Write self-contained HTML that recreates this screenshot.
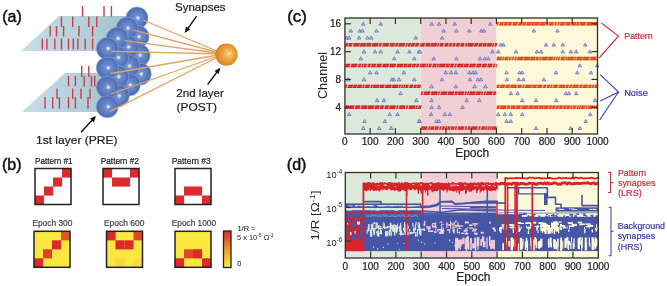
<!DOCTYPE html>
<html><head><meta charset="utf-8"><style>html,body{margin:0;padding:0;background:#fff;width:667px;height:286px;overflow:hidden}svg{display:block;will-change:transform;filter:blur(0.35px)}</style></head>
<body><svg width="667" height="286" viewBox="0 0 667 286">
<rect width="667" height="286" fill="#fff"/>
<text x="2.2" y="21.6" font-size="17" fill="#111" stroke="#111" stroke-width="0.5" textLength="19.6" lengthAdjust="spacingAndGlyphs" font-family="Liberation Sans, sans-serif">(a)</text>
<text x="2.0" y="170.3" font-size="17" fill="#111" stroke="#111" stroke-width="0.5" textLength="19.6" lengthAdjust="spacingAndGlyphs" font-family="Liberation Sans, sans-serif">(b)</text>
<text x="287.2" y="21.6" font-size="17" fill="#111" stroke="#111" stroke-width="0.5" textLength="19.6" lengthAdjust="spacingAndGlyphs" font-family="Liberation Sans, sans-serif">(c)</text>
<text x="286.8" y="170.3" font-size="17" fill="#111" stroke="#111" stroke-width="0.5" textLength="19.6" lengthAdjust="spacingAndGlyphs" font-family="Liberation Sans, sans-serif">(d)</text>
<defs>
<linearGradient id="plane" x1="0" y1="0" x2="1" y2="0">
<stop offset="0" stop-color="#c4deea"/><stop offset="0.55" stop-color="#b2d0dc"/><stop offset="1" stop-color="#9cbac4"/></linearGradient>
<radialGradient id="sph" cx="0.5" cy="0.5" r="0.5" fx="0.55" fy="0.5">
<stop offset="0" stop-color="#f4f8ff"/><stop offset="0.1" stop-color="#c4d4f2"/><stop offset="0.22" stop-color="#7090d0"/><stop offset="0.7" stop-color="#5878c0"/><stop offset="0.9" stop-color="#4d6cb4"/><stop offset="1" stop-color="#7088c4"/></radialGradient>
<radialGradient id="orb" cx="0.55" cy="0.5" r="0.6" fx="0.62" fy="0.45">
<stop offset="0" stop-color="#fff3c0"/><stop offset="0.15" stop-color="#f6c064"/><stop offset="0.6" stop-color="#e39a36"/><stop offset="1" stop-color="#c97a22"/></radialGradient>
<linearGradient id="cbar" x1="0" y1="1" x2="0" y2="0">
<stop offset="0" stop-color="#fff23a"/><stop offset="0.5" stop-color="#ef9a2e"/><stop offset="1" stop-color="#d42a2a"/></linearGradient>
</defs>
<polygon points="21,51 59,16 140,16 140,51" fill="url(#plane)"/>
<polygon points="22,112 65,73 125,73 110,112" fill="url(#plane)"/>
<line x1="82.5" y1="6" x2="82.5" y2="16.5" stroke="#d23b42" stroke-width="1.4"/>
<line x1="104" y1="6" x2="104" y2="16.5" stroke="#d23b42" stroke-width="1.4"/>
<line x1="111.4" y1="6" x2="111.4" y2="16.5" stroke="#d23b42" stroke-width="1.4"/>
<line x1="61.5" y1="16.5" x2="61.5" y2="27" stroke="#d23b42" stroke-width="1.4"/>
<line x1="72.7" y1="16.5" x2="72.7" y2="27" stroke="#d23b42" stroke-width="1.4"/>
<line x1="88.8" y1="16.5" x2="88.8" y2="27" stroke="#d23b42" stroke-width="1.4"/>
<line x1="96.8" y1="16.5" x2="96.8" y2="27" stroke="#d23b42" stroke-width="1.4"/>
<line x1="50.2" y1="26" x2="50.2" y2="36.4" stroke="#d23b42" stroke-width="1.4"/>
<line x1="56.5" y1="26" x2="56.5" y2="36.4" stroke="#d23b42" stroke-width="1.4"/>
<line x1="63.6" y1="26" x2="63.6" y2="36.4" stroke="#d23b42" stroke-width="1.4"/>
<line x1="79" y1="26" x2="79" y2="36.4" stroke="#d23b42" stroke-width="1.4"/>
<line x1="92.6" y1="26" x2="92.6" y2="36.4" stroke="#d23b42" stroke-width="1.4"/>
<line x1="42.3" y1="38.5" x2="42.3" y2="49.4" stroke="#d23b42" stroke-width="1.4"/>
<line x1="46.9" y1="38.5" x2="46.9" y2="49.4" stroke="#d23b42" stroke-width="1.4"/>
<line x1="54.8" y1="38.5" x2="54.8" y2="49.4" stroke="#d23b42" stroke-width="1.4"/>
<line x1="61.5" y1="38.5" x2="61.5" y2="49.4" stroke="#d23b42" stroke-width="1.4"/>
<line x1="68.5" y1="38.5" x2="68.5" y2="49.4" stroke="#d23b42" stroke-width="1.4"/>
<line x1="73.3" y1="38.5" x2="73.3" y2="49.4" stroke="#d23b42" stroke-width="1.4"/>
<line x1="77.9" y1="38.5" x2="77.9" y2="49.4" stroke="#d23b42" stroke-width="1.4"/>
<line x1="85.2" y1="38.5" x2="85.2" y2="49.4" stroke="#d23b42" stroke-width="1.4"/>
<line x1="92.6" y1="38.5" x2="92.6" y2="49.4" stroke="#d23b42" stroke-width="1.4"/>
<line x1="81.7" y1="66" x2="81.7" y2="77" stroke="#d23b42" stroke-width="1.4"/>
<line x1="88.8" y1="66" x2="88.8" y2="77" stroke="#d23b42" stroke-width="1.4"/>
<line x1="68.5" y1="76" x2="68.5" y2="86.4" stroke="#d23b42" stroke-width="1.4"/>
<line x1="75.4" y1="76" x2="75.4" y2="86.4" stroke="#d23b42" stroke-width="1.4"/>
<line x1="84.2" y1="76" x2="84.2" y2="86.4" stroke="#d23b42" stroke-width="1.4"/>
<line x1="91.5" y1="76" x2="91.5" y2="86.4" stroke="#d23b42" stroke-width="1.4"/>
<line x1="94.7" y1="76" x2="94.7" y2="86.4" stroke="#d23b42" stroke-width="1.4"/>
<line x1="57" y1="88.5" x2="57" y2="99" stroke="#d23b42" stroke-width="1.4"/>
<line x1="72.7" y1="88.5" x2="72.7" y2="99" stroke="#d23b42" stroke-width="1.4"/>
<line x1="81" y1="88.5" x2="81" y2="99" stroke="#d23b42" stroke-width="1.4"/>
<line x1="90" y1="88.5" x2="90" y2="99" stroke="#d23b42" stroke-width="1.4"/>
<line x1="45" y1="97" x2="45" y2="108.5" stroke="#d23b42" stroke-width="1.4"/>
<line x1="52.7" y1="97" x2="52.7" y2="108.5" stroke="#d23b42" stroke-width="1.4"/>
<line x1="59.4" y1="97" x2="59.4" y2="108.5" stroke="#d23b42" stroke-width="1.4"/>
<line x1="68.5" y1="97" x2="68.5" y2="108.5" stroke="#d23b42" stroke-width="1.4"/>
<line x1="75.4" y1="97" x2="75.4" y2="108.5" stroke="#d23b42" stroke-width="1.4"/>
<line x1="88" y1="97" x2="88" y2="108.5" stroke="#d23b42" stroke-width="1.4"/>
<circle cx="137.0" cy="17.9" r="11" fill="url(#sph)" stroke="#8098cc" stroke-width="0.5"/>
<circle cx="138.1" cy="36.6" r="11" fill="url(#sph)" stroke="#8098cc" stroke-width="0.5"/>
<circle cx="139.2" cy="55.3" r="11" fill="url(#sph)" stroke="#8098cc" stroke-width="0.5"/>
<circle cx="140.3" cy="74.0" r="11" fill="url(#sph)" stroke="#8098cc" stroke-width="0.5"/>
<circle cx="127.1" cy="28.1" r="11" fill="url(#sph)" stroke="#8098cc" stroke-width="0.5"/>
<circle cx="127.8" cy="47.0" r="11" fill="url(#sph)" stroke="#8098cc" stroke-width="0.5"/>
<circle cx="128.6" cy="66.0" r="11" fill="url(#sph)" stroke="#8098cc" stroke-width="0.5"/>
<circle cx="129.3" cy="84.9" r="11" fill="url(#sph)" stroke="#8098cc" stroke-width="0.5"/>
<circle cx="117.2" cy="38.3" r="11" fill="url(#sph)" stroke="#8098cc" stroke-width="0.5"/>
<circle cx="117.6" cy="57.5" r="11" fill="url(#sph)" stroke="#8098cc" stroke-width="0.5"/>
<circle cx="117.9" cy="76.6" r="11" fill="url(#sph)" stroke="#8098cc" stroke-width="0.5"/>
<circle cx="118.3" cy="95.8" r="11" fill="url(#sph)" stroke="#8098cc" stroke-width="0.5"/>
<circle cx="107.3" cy="48.5" r="11" fill="url(#sph)" stroke="#8098cc" stroke-width="0.5"/>
<circle cx="107.3" cy="67.9" r="11" fill="url(#sph)" stroke="#8098cc" stroke-width="0.5"/>
<circle cx="107.3" cy="87.3" r="11" fill="url(#sph)" stroke="#8098cc" stroke-width="0.5"/>
<circle cx="107.3" cy="106.7" r="11" fill="url(#sph)" stroke="#8098cc" stroke-width="0.5"/>
<line x1="143" y1="20" x2="224" y2="54" stroke="#e0a460" stroke-width="1.3"/>
<line x1="133.4" y1="30.2" x2="224" y2="54" stroke="#e0a460" stroke-width="1.3"/>
<line x1="125" y1="40.6" x2="224" y2="54" stroke="#e0a460" stroke-width="1.3"/>
<line x1="111.8" y1="51.4" x2="224" y2="54" stroke="#e0a460" stroke-width="1.3"/>
<line x1="110.7" y1="73.5" x2="224" y2="54" stroke="#e0a460" stroke-width="1.3"/>
<line x1="110.7" y1="94" x2="224" y2="54" stroke="#e0a460" stroke-width="1.3"/>
<line x1="110.2" y1="111.3" x2="224" y2="54" stroke="#e0a460" stroke-width="1.3"/>
<circle cx="226.5" cy="54.6" r="11.2" fill="url(#orb)"/>
<line x1="196.6" y1="16.1" x2="185.9" y2="31.3" stroke="#111" stroke-width="1.4"/>
<polygon points="184.7,32.9 186.0,26.5 190.3,29.6" fill="#111"/>
<line x1="207.6" y1="84.5" x2="219.0" y2="69.4" stroke="#111" stroke-width="1.4"/>
<polygon points="220.2,67.8 218.7,74.1 214.5,70.9" fill="#111"/>
<line x1="81" y1="132.3" x2="94.6" y2="117.5" stroke="#111" stroke-width="1.4"/>
<polygon points="96,116 93.9,122.2 90.0,118.6" fill="#111"/>
<text x="175.0" y="11.2" font-size="11.5" fill="#222" stroke="#222" stroke-width="0.22" text-anchor="start" font-family="Liberation Sans, sans-serif" textLength="50.6" lengthAdjust="spacingAndGlyphs" >Synapses</text>
<text x="176.3" y="96.8" font-size="11.5" fill="#222" stroke="#222" stroke-width="0.22" text-anchor="start" font-family="Liberation Sans, sans-serif" textLength="47.6" lengthAdjust="spacingAndGlyphs" >2nd layer</text>
<text x="176.6" y="111.1" font-size="11.5" fill="#222" stroke="#222" stroke-width="0.22" text-anchor="start" font-family="Liberation Sans, sans-serif" textLength="40.4" lengthAdjust="spacingAndGlyphs" >(POST)</text>
<text x="36.0" y="144.2" font-size="11.5" fill="#222" stroke="#222" stroke-width="0.22" text-anchor="start" font-family="Liberation Sans, sans-serif" textLength="81.4" lengthAdjust="spacingAndGlyphs" >1st layer  (PRE)</text>
<rect x="35" y="168.5" width="36" height="36" fill="#fff"/>
<rect x="35.00" y="195.50" width="9.10" height="9.10" fill="#dc2a2e"/>
<rect x="44.00" y="186.50" width="9.10" height="9.10" fill="#dc2a2e"/>
<rect x="53.00" y="177.50" width="9.10" height="9.10" fill="#dc2a2e"/>
<rect x="62.00" y="168.50" width="9.10" height="9.10" fill="#dc2a2e"/>
<rect x="35" y="168.5" width="36" height="36" fill="none" stroke="#222" stroke-width="1.5"/>
<rect x="103" y="168.5" width="36" height="36" fill="#fff"/>
<rect x="103.00" y="168.50" width="9.10" height="9.10" fill="#dc2a2e"/>
<rect x="130.00" y="168.50" width="9.10" height="9.10" fill="#dc2a2e"/>
<rect x="112.00" y="177.50" width="9.10" height="9.10" fill="#dc2a2e"/>
<rect x="121.00" y="177.50" width="9.10" height="9.10" fill="#dc2a2e"/>
<rect x="103" y="168.5" width="36" height="36" fill="none" stroke="#222" stroke-width="1.5"/>
<rect x="175" y="168.5" width="36" height="36" fill="#fff"/>
<rect x="175.00" y="195.50" width="9.10" height="9.10" fill="#dc2a2e"/>
<rect x="202.00" y="195.50" width="9.10" height="9.10" fill="#dc2a2e"/>
<rect x="184.00" y="186.50" width="9.10" height="9.10" fill="#dc2a2e"/>
<rect x="193.00" y="186.50" width="9.10" height="9.10" fill="#dc2a2e"/>
<rect x="175" y="168.5" width="36" height="36" fill="none" stroke="#222" stroke-width="1.5"/>
<text x="35.0" y="163.9" font-size="8.8" fill="#222" stroke="#222" stroke-width="0.22" text-anchor="start" font-family="Liberation Sans, sans-serif" textLength="37.5" lengthAdjust="spacingAndGlyphs" >Pattern #1</text>
<text x="100.7" y="163.9" font-size="8.8" fill="#222" stroke="#222" stroke-width="0.22" text-anchor="start" font-family="Liberation Sans, sans-serif" textLength="38.3" lengthAdjust="spacingAndGlyphs" >Pattern #2</text>
<text x="171.7" y="163.9" font-size="8.8" fill="#222" stroke="#222" stroke-width="0.22" text-anchor="start" font-family="Liberation Sans, sans-serif" textLength="39.0" lengthAdjust="spacingAndGlyphs" >Pattern #3</text>
<rect x="34" y="231.3" width="36" height="36" fill="#f8e840"/>
<rect x="34.00" y="258.30" width="9.10" height="9.10" fill="#dc2a2a"/>
<rect x="43.00" y="249.30" width="9.10" height="9.10" fill="#dd4228"/>
<rect x="52.00" y="240.30" width="9.10" height="9.10" fill="#dc2a2a"/>
<rect x="61.00" y="231.30" width="9.10" height="9.10" fill="#dd5a28"/>
<rect x="34" y="231.3" width="36" height="36" fill="none" stroke="#222" stroke-width="1.5"/>
<rect x="106.5" y="231.3" width="36" height="36" fill="#f8e840"/>
<rect x="106.50" y="231.30" width="9.10" height="9.10" fill="#dc2a2a"/>
<rect x="133.50" y="231.30" width="9.10" height="9.10" fill="#de4a28"/>
<rect x="115.50" y="240.30" width="9.10" height="9.10" fill="#dc2a2a"/>
<rect x="124.50" y="240.30" width="9.10" height="9.10" fill="#dc2a2a"/>
<rect x="115.50" y="258.30" width="9.10" height="9.10" fill="#f6d848"/>
<rect x="133.50" y="258.30" width="9.10" height="9.10" fill="#f6d848"/>
<rect x="106.5" y="231.3" width="36" height="36" fill="none" stroke="#222" stroke-width="1.5"/>
<rect x="175" y="231.3" width="36" height="36" fill="#f8e840"/>
<rect x="175.00" y="258.30" width="9.10" height="9.10" fill="#dc2a2a"/>
<rect x="202.00" y="258.30" width="9.10" height="9.10" fill="#dc2a2a"/>
<rect x="184.00" y="249.30" width="9.10" height="9.10" fill="#de4a28"/>
<rect x="193.00" y="249.30" width="9.10" height="9.10" fill="#dc2a2a"/>
<rect x="175" y="231.3" width="36" height="36" fill="none" stroke="#222" stroke-width="1.5"/>
<text x="32.4" y="226.4" font-size="8.8" fill="#444" stroke="#444" stroke-width="0.22" text-anchor="start" font-family="Liberation Sans, sans-serif" textLength="40.0" lengthAdjust="spacingAndGlyphs" >Epoch 300</text>
<text x="103.9" y="226.4" font-size="8.8" fill="#444" stroke="#444" stroke-width="0.22" text-anchor="start" font-family="Liberation Sans, sans-serif" textLength="40.6" lengthAdjust="spacingAndGlyphs" >Epoch 600</text>
<text x="171.8" y="226.4" font-size="8.8" fill="#444" stroke="#444" stroke-width="0.22" text-anchor="start" font-family="Liberation Sans, sans-serif" textLength="44.2" lengthAdjust="spacingAndGlyphs" >Epoch 1000</text>
<rect x="223.5" y="231" width="7.5" height="36.5" fill="url(#cbar)" stroke="#222" stroke-width="1.3"/>
<text x="237.4" y="230.9" font-size="7.4" fill="#222" stroke="#222" stroke-width="0.06" text-anchor="start" font-family="Liberation Sans, sans-serif" textLength="18.3" lengthAdjust="spacingAndGlyphs" >1/R =</text>
<text x="237.0" y="240.1" font-size="7.4" fill="#222" font-family="Liberation Sans, sans-serif">5 x 10<tspan font-size="5" dy="-3">-5</tspan><tspan dy="3"> Ω</tspan><tspan font-size="5" dy="-3">-1</tspan></text>
<text x="237.2" y="266.2" font-size="7.2" fill="#222" stroke="#222" stroke-width="0.06" text-anchor="start" font-family="Liberation Sans, sans-serif" >0</text>

<rect x="344.9" y="18" width="75.78" height="116" fill="#dce9da"/>
<rect x="420.68" y="18" width="75.78" height="116" fill="#f1d0d5"/>
<rect x="496.46" y="18" width="101.04" height="116" fill="#fcf8d8"/>
<rect x="344.90" y="42.95" width="75.78" height="3.4" fill="#e6a49c"/>
<polygon points="344.9,46.4 347.4,46.4 348.3,43.0 345.8,43.0" fill="#d02024"/>
<polygon points="348.2,46.4 351.7,46.4 352.6,43.0 349.1,43.0" fill="#d02024"/>
<polygon points="353.0,46.4 359.0,46.4 359.9,43.0 353.9,43.0" fill="#d02024"/>
<polygon points="359.6,46.4 365.6,46.4 366.5,43.0 360.5,43.0" fill="#d02024"/>
<polygon points="366.2,46.4 370.7,46.4 371.6,43.0 367.1,43.0" fill="#d02024"/>
<polygon points="371.7,46.4 377.7,46.4 378.6,43.0 372.6,43.0" fill="#d02024"/>
<polygon points="378.5,46.4 381.0,46.4 381.9,43.0 379.4,43.0" fill="#d02024"/>
<polygon points="382.3,46.4 388.3,46.4 389.2,43.0 383.2,43.0" fill="#d02024"/>
<polygon points="389.6,46.4 394.1,46.4 395.0,43.0 390.5,43.0" fill="#d02024"/>
<polygon points="394.9,46.4 397.4,46.4 398.3,43.0 395.8,43.0" fill="#d02024"/>
<polygon points="398.2,46.4 404.2,46.4 405.1,43.0 399.1,43.0" fill="#d02024"/>
<polygon points="405.5,46.4 407.0,46.4 407.9,43.0 406.4,43.0" fill="#d02024"/>
<polygon points="407.6,46.4 410.1,46.4 411.0,43.0 408.5,43.0" fill="#d02024"/>
<polygon points="410.7,46.4 414.2,46.4 415.1,43.0 411.6,43.0" fill="#d02024"/>
<polygon points="414.8,46.4 418.3,46.4 419.2,43.0 415.7,43.0" fill="#d02024"/>
<polygon points="419.6,46.4 420.7,46.4 421.6,43.0 420.5,43.0" fill="#d02024"/>
<rect x="344.90" y="44.35" width="75.78" height="0.6" fill="#f4c8b8" opacity="0.35"/>
<rect x="344.90" y="63.80" width="75.78" height="3.4" fill="#e6a49c"/>
<polygon points="344.9,67.2 349.4,67.2 350.3,63.8 345.8,63.8" fill="#d02024"/>
<polygon points="350.7,67.2 356.7,67.2 357.6,63.8 351.6,63.8" fill="#d02024"/>
<polygon points="358.0,67.2 360.5,67.2 361.4,63.8 358.9,63.8" fill="#d02024"/>
<polygon points="361.5,67.2 363.0,67.2 363.9,63.8 362.4,63.8" fill="#d02024"/>
<polygon points="363.6,67.2 366.1,67.2 367.0,63.8 364.5,63.8" fill="#d02024"/>
<polygon points="367.4,67.2 369.9,67.2 370.8,63.8 368.3,63.8" fill="#d02024"/>
<polygon points="370.9,67.2 375.4,67.2 376.3,63.8 371.8,63.8" fill="#d02024"/>
<polygon points="376.4,67.2 380.9,67.2 381.8,63.8 377.3,63.8" fill="#d02024"/>
<polygon points="382.2,67.2 388.2,67.2 389.1,63.8 383.1,63.8" fill="#d02024"/>
<polygon points="389.2,67.2 395.2,67.2 396.1,63.8 390.1,63.8" fill="#d02024"/>
<polygon points="396.5,67.2 402.5,67.2 403.4,63.8 397.4,63.8" fill="#d02024"/>
<polygon points="403.3,67.2 406.8,67.2 407.7,63.8 404.2,63.8" fill="#d02024"/>
<polygon points="407.4,67.2 410.9,67.2 411.8,63.8 408.3,63.8" fill="#d02024"/>
<polygon points="411.7,67.2 415.2,67.2 416.1,63.8 412.6,63.8" fill="#d02024"/>
<polygon points="415.8,67.2 418.3,67.2 419.2,63.8 416.7,63.8" fill="#d02024"/>
<polygon points="419.3,67.2 420.7,67.2 421.6,63.8 420.2,63.8" fill="#d02024"/>
<rect x="344.90" y="65.20" width="75.78" height="0.6" fill="#f4c8b8" opacity="0.35"/>
<rect x="344.90" y="84.65" width="75.78" height="3.4" fill="#e6a49c"/>
<polygon points="344.9,88.1 346.4,88.1 347.3,84.7 345.8,84.7" fill="#d02024"/>
<polygon points="347.7,88.1 352.2,88.1 353.1,84.7 348.6,84.7" fill="#d02024"/>
<polygon points="352.8,88.1 356.3,88.1 357.2,84.7 353.7,84.7" fill="#d02024"/>
<polygon points="356.9,88.1 361.4,88.1 362.3,84.7 357.8,84.7" fill="#d02024"/>
<polygon points="362.2,88.1 363.7,88.1 364.6,84.7 363.1,84.7" fill="#d02024"/>
<polygon points="364.7,88.1 369.2,88.1 370.1,84.7 365.6,84.7" fill="#d02024"/>
<polygon points="370.5,88.1 372.0,88.1 372.9,84.7 371.4,84.7" fill="#d02024"/>
<polygon points="372.6,88.1 378.6,88.1 379.5,84.7 373.5,84.7" fill="#d02024"/>
<polygon points="379.2,88.1 383.7,88.1 384.6,84.7 380.1,84.7" fill="#d02024"/>
<polygon points="384.7,88.1 390.7,88.1 391.6,84.7 385.6,84.7" fill="#d02024"/>
<polygon points="391.7,88.1 397.7,88.1 398.6,84.7 392.6,84.7" fill="#d02024"/>
<polygon points="398.5,88.1 400.0,88.1 400.9,84.7 399.4,84.7" fill="#d02024"/>
<polygon points="401.0,88.1 402.5,88.1 403.4,84.7 401.9,84.7" fill="#d02024"/>
<polygon points="403.1,88.1 404.6,88.1 405.5,84.7 404.0,84.7" fill="#d02024"/>
<polygon points="405.2,88.1 407.7,88.1 408.6,84.7 406.1,84.7" fill="#d02024"/>
<polygon points="409.0,88.1 412.5,88.1 413.4,84.7 409.9,84.7" fill="#d02024"/>
<polygon points="413.5,88.1 416.0,88.1 416.9,84.7 414.4,84.7" fill="#d02024"/>
<polygon points="416.6,88.1 420.1,88.1 421.0,84.7 417.5,84.7" fill="#d02024"/>
<rect x="344.90" y="86.05" width="75.78" height="0.6" fill="#f4c8b8" opacity="0.35"/>
<rect x="344.90" y="105.50" width="75.78" height="3.4" fill="#e6a49c"/>
<polygon points="344.9,108.9 348.4,108.9 349.3,105.5 345.8,105.5" fill="#d02024"/>
<polygon points="349.2,108.9 353.7,108.9 354.6,105.5 350.1,105.5" fill="#d02024"/>
<polygon points="355.0,108.9 359.5,108.9 360.4,105.5 355.9,105.5" fill="#d02024"/>
<polygon points="360.8,108.9 366.8,108.9 367.7,105.5 361.7,105.5" fill="#d02024"/>
<polygon points="367.4,108.9 373.4,108.9 374.3,105.5 368.3,105.5" fill="#d02024"/>
<polygon points="374.4,108.9 378.9,108.9 379.8,105.5 375.3,105.5" fill="#d02024"/>
<polygon points="379.7,108.9 383.2,108.9 384.1,105.5 380.6,105.5" fill="#d02024"/>
<polygon points="384.5,108.9 388.0,108.9 388.9,105.5 385.4,105.5" fill="#d02024"/>
<polygon points="389.0,108.9 395.0,108.9 395.9,105.5 389.9,105.5" fill="#d02024"/>
<polygon points="396.0,108.9 397.5,108.9 398.4,105.5 396.9,105.5" fill="#d02024"/>
<polygon points="398.8,108.9 404.8,108.9 405.7,105.5 399.7,105.5" fill="#d02024"/>
<polygon points="405.8,108.9 407.3,108.9 408.2,105.5 406.7,105.5" fill="#d02024"/>
<polygon points="408.6,108.9 414.6,108.9 415.5,105.5 409.5,105.5" fill="#d02024"/>
<polygon points="415.4,108.9 416.9,108.9 417.8,105.5 416.3,105.5" fill="#d02024"/>
<polygon points="417.9,108.9 420.7,108.9 421.6,105.5 418.8,105.5" fill="#d02024"/>
<rect x="344.90" y="106.90" width="75.78" height="0.6" fill="#f4c8b8" opacity="0.35"/>
<rect x="420.68" y="42.95" width="75.78" height="3.4" fill="#e6a49c"/>
<polygon points="420.7,46.4 424.2,46.4 425.1,43.0 421.6,43.0" fill="#d02024"/>
<polygon points="425.2,46.4 429.7,46.4 430.6,43.0 426.1,43.0" fill="#d02024"/>
<polygon points="430.3,46.4 436.3,46.4 437.2,43.0 431.2,43.0" fill="#d02024"/>
<polygon points="436.9,46.4 438.4,46.4 439.3,43.0 437.8,43.0" fill="#d02024"/>
<polygon points="439.4,46.4 442.9,46.4 443.8,43.0 440.3,43.0" fill="#d02024"/>
<polygon points="444.2,46.4 447.7,46.4 448.6,43.0 445.1,43.0" fill="#d02024"/>
<polygon points="448.7,46.4 451.2,46.4 452.1,43.0 449.6,43.0" fill="#d02024"/>
<polygon points="452.2,46.4 454.7,46.4 455.6,43.0 453.1,43.0" fill="#d02024"/>
<polygon points="455.7,46.4 459.2,46.4 460.1,43.0 456.6,43.0" fill="#d02024"/>
<polygon points="460.2,46.4 463.7,46.4 464.6,43.0 461.1,43.0" fill="#d02024"/>
<polygon points="465.0,46.4 466.5,46.4 467.4,43.0 465.9,43.0" fill="#d02024"/>
<polygon points="467.1,46.4 473.1,46.4 474.0,43.0 468.0,43.0" fill="#d02024"/>
<polygon points="473.9,46.4 477.4,46.4 478.3,43.0 474.8,43.0" fill="#d02024"/>
<polygon points="478.2,46.4 481.7,46.4 482.6,43.0 479.1,43.0" fill="#d02024"/>
<polygon points="482.5,46.4 486.0,46.4 486.9,43.0 483.4,43.0" fill="#d02024"/>
<polygon points="486.8,46.4 491.3,46.4 492.2,43.0 487.7,43.0" fill="#d02024"/>
<polygon points="491.9,46.4 493.4,46.4 494.3,43.0 492.8,43.0" fill="#d02024"/>
<polygon points="494.4,46.4 496.5,46.4 497.4,43.0 495.3,43.0" fill="#d02024"/>
<rect x="420.68" y="44.35" width="75.78" height="0.6" fill="#f4c8b8" opacity="0.35"/>
<rect x="420.68" y="63.80" width="75.78" height="3.4" fill="#e6a49c"/>
<polygon points="420.7,67.2 425.2,67.2 426.1,63.8 421.6,63.8" fill="#d02024"/>
<polygon points="426.0,67.2 427.5,67.2 428.4,63.8 426.9,63.8" fill="#d02024"/>
<polygon points="428.5,67.2 431.0,67.2 431.9,63.8 429.4,63.8" fill="#d02024"/>
<polygon points="432.3,67.2 435.8,67.2 436.7,63.8 433.2,63.8" fill="#d02024"/>
<polygon points="436.6,67.2 438.1,67.2 439.0,63.8 437.5,63.8" fill="#d02024"/>
<polygon points="438.7,67.2 444.7,67.2 445.6,63.8 439.6,63.8" fill="#d02024"/>
<polygon points="445.5,67.2 449.0,67.2 449.9,63.8 446.4,63.8" fill="#d02024"/>
<polygon points="449.8,67.2 453.3,67.2 454.2,63.8 450.7,63.8" fill="#d02024"/>
<polygon points="454.3,67.2 455.8,67.2 456.7,63.8 455.2,63.8" fill="#d02024"/>
<polygon points="456.8,67.2 462.8,67.2 463.7,63.8 457.7,63.8" fill="#d02024"/>
<polygon points="463.6,67.2 468.1,67.2 469.0,63.8 464.5,63.8" fill="#d02024"/>
<polygon points="469.1,67.2 475.1,67.2 476.0,63.8 470.0,63.8" fill="#d02024"/>
<polygon points="476.1,67.2 480.6,67.2 481.5,63.8 477.0,63.8" fill="#d02024"/>
<polygon points="481.6,67.2 486.1,67.2 487.0,63.8 482.5,63.8" fill="#d02024"/>
<polygon points="487.1,67.2 491.6,67.2 492.5,63.8 488.0,63.8" fill="#d02024"/>
<polygon points="492.9,67.2 494.4,67.2 495.3,63.8 493.8,63.8" fill="#d02024"/>
<polygon points="495.7,67.2 496.5,67.2 497.4,63.8 496.6,63.8" fill="#d02024"/>
<rect x="420.68" y="65.20" width="75.78" height="0.6" fill="#f4c8b8" opacity="0.35"/>
<rect x="420.68" y="91.60" width="75.78" height="3.4" fill="#e6a49c"/>
<polygon points="420.7,95.0 422.2,95.0 423.1,91.6 421.6,91.6" fill="#d02024"/>
<polygon points="423.5,95.0 429.5,95.0 430.4,91.6 424.4,91.6" fill="#d02024"/>
<polygon points="430.8,95.0 436.8,95.0 437.7,91.6 431.7,91.6" fill="#d02024"/>
<polygon points="437.6,95.0 439.1,95.0 440.0,91.6 438.5,91.6" fill="#d02024"/>
<polygon points="440.4,95.0 446.4,95.0 447.3,91.6 441.3,91.6" fill="#d02024"/>
<polygon points="447.4,95.0 453.4,95.0 454.3,91.6 448.3,91.6" fill="#d02024"/>
<polygon points="454.4,95.0 456.9,95.0 457.8,91.6 455.3,91.6" fill="#d02024"/>
<polygon points="457.5,95.0 463.5,95.0 464.4,91.6 458.4,91.6" fill="#d02024"/>
<polygon points="464.5,95.0 466.0,95.0 466.9,91.6 465.4,91.6" fill="#d02024"/>
<polygon points="466.8,95.0 468.3,95.0 469.2,91.6 467.7,91.6" fill="#d02024"/>
<polygon points="468.9,95.0 474.9,95.0 475.8,91.6 469.8,91.6" fill="#d02024"/>
<polygon points="475.7,95.0 480.2,95.0 481.1,91.6 476.6,91.6" fill="#d02024"/>
<polygon points="480.8,95.0 482.3,95.0 483.2,91.6 481.7,91.6" fill="#d02024"/>
<polygon points="483.6,95.0 485.1,95.0 486.0,91.6 484.5,91.6" fill="#d02024"/>
<polygon points="485.9,95.0 491.9,95.0 492.8,91.6 486.8,91.6" fill="#d02024"/>
<polygon points="492.9,95.0 495.4,95.0 496.3,91.6 493.8,91.6" fill="#d02024"/>
<rect x="420.68" y="93.00" width="75.78" height="0.6" fill="#f4c8b8" opacity="0.35"/>
<rect x="420.68" y="126.35" width="75.78" height="3.4" fill="#e6a49c"/>
<polygon points="420.7,129.8 426.7,129.8 427.6,126.4 421.6,126.4" fill="#d02024"/>
<polygon points="428.0,129.8 429.5,129.8 430.4,126.4 428.9,126.4" fill="#d02024"/>
<polygon points="430.1,129.8 433.6,129.8 434.5,126.4 431.0,126.4" fill="#d02024"/>
<polygon points="434.4,129.8 437.9,129.8 438.8,126.4 435.3,126.4" fill="#d02024"/>
<polygon points="439.2,129.8 440.7,129.8 441.6,126.4 440.1,126.4" fill="#d02024"/>
<polygon points="441.7,129.8 444.2,129.8 445.1,126.4 442.6,126.4" fill="#d02024"/>
<polygon points="445.0,129.8 446.5,129.8 447.4,126.4 445.9,126.4" fill="#d02024"/>
<polygon points="447.1,129.8 449.6,129.8 450.5,126.4 448.0,126.4" fill="#d02024"/>
<polygon points="450.4,129.8 453.9,129.8 454.8,126.4 451.3,126.4" fill="#d02024"/>
<polygon points="454.7,129.8 456.2,129.8 457.1,126.4 455.6,126.4" fill="#d02024"/>
<polygon points="457.5,129.8 463.5,129.8 464.4,126.4 458.4,126.4" fill="#d02024"/>
<polygon points="464.8,129.8 466.3,129.8 467.2,126.4 465.7,126.4" fill="#d02024"/>
<polygon points="467.3,129.8 469.8,129.8 470.7,126.4 468.2,126.4" fill="#d02024"/>
<polygon points="470.8,129.8 476.8,129.8 477.7,126.4 471.7,126.4" fill="#d02024"/>
<polygon points="478.1,129.8 479.6,129.8 480.5,126.4 479.0,126.4" fill="#d02024"/>
<polygon points="480.9,129.8 484.4,129.8 485.3,126.4 481.8,126.4" fill="#d02024"/>
<polygon points="485.0,129.8 486.5,129.8 487.4,126.4 485.9,126.4" fill="#d02024"/>
<polygon points="487.3,129.8 488.8,129.8 489.7,126.4 488.2,126.4" fill="#d02024"/>
<polygon points="489.4,129.8 490.9,129.8 491.8,126.4 490.3,126.4" fill="#d02024"/>
<polygon points="491.5,129.8 496.0,129.8 496.9,126.4 492.4,126.4" fill="#d02024"/>
<rect x="420.68" y="127.75" width="75.78" height="0.6" fill="#f4c8b8" opacity="0.35"/>
<rect x="496.46" y="22.10" width="101.04" height="3.4" fill="#f2b468"/>
<polygon points="496.5,25.5 498.0,25.5 498.9,22.1 497.4,22.1" fill="#e0421f"/>
<polygon points="499.3,25.5 502.8,25.5 503.7,22.1 500.2,22.1" fill="#e0421f"/>
<polygon points="503.6,25.5 507.1,25.5 508.0,22.1 504.5,22.1" fill="#e0421f"/>
<polygon points="507.7,25.5 511.2,25.5 512.1,22.1 508.6,22.1" fill="#e0421f"/>
<polygon points="512.5,25.5 517.0,25.5 517.9,22.1 513.4,22.1" fill="#e0421f"/>
<polygon points="518.0,25.5 521.5,25.5 522.4,22.1 518.9,22.1" fill="#e0421f"/>
<polygon points="522.5,25.5 525.0,25.5 525.9,22.1 523.4,22.1" fill="#e0421f"/>
<polygon points="526.0,25.5 530.5,25.5 531.4,22.1 526.9,22.1" fill="#e0421f"/>
<polygon points="531.1,25.5 533.6,25.5 534.5,22.1 532.0,22.1" fill="#e0421f"/>
<polygon points="534.2,25.5 538.7,25.5 539.6,22.1 535.1,22.1" fill="#e0421f"/>
<polygon points="539.3,25.5 545.3,25.5 546.2,22.1 540.2,22.1" fill="#e0421f"/>
<polygon points="546.1,25.5 547.6,25.5 548.5,22.1 547.0,22.1" fill="#e0421f"/>
<polygon points="548.6,25.5 553.1,25.5 554.0,22.1 549.5,22.1" fill="#e0421f"/>
<polygon points="554.4,25.5 555.9,25.5 556.8,22.1 555.3,22.1" fill="#e0421f"/>
<polygon points="557.2,25.5 558.7,25.5 559.6,22.1 558.1,22.1" fill="#e0421f"/>
<polygon points="559.7,25.5 564.2,25.5 565.1,22.1 560.6,22.1" fill="#e0421f"/>
<polygon points="565.2,25.5 569.7,25.5 570.6,22.1 566.1,22.1" fill="#e0421f"/>
<polygon points="571.0,25.5 575.5,25.5 576.4,22.1 571.9,22.1" fill="#e0421f"/>
<polygon points="576.1,25.5 578.6,25.5 579.5,22.1 577.0,22.1" fill="#e0421f"/>
<polygon points="579.4,25.5 585.4,25.5 586.3,22.1 580.3,22.1" fill="#e0421f"/>
<polygon points="586.4,25.5 592.4,25.5 593.3,22.1 587.3,22.1" fill="#e0421f"/>
<polygon points="593.0,25.5 597.5,25.5 598.4,22.1 593.9,22.1" fill="#e0421f"/>
<rect x="496.46" y="23.50" width="101.04" height="0.6" fill="#f8d890" opacity="0.35"/>
<rect x="496.46" y="56.85" width="101.04" height="3.4" fill="#f2b468"/>
<polygon points="496.5,60.2 501.0,60.2 501.9,56.8 497.4,56.8" fill="#e0421f"/>
<polygon points="501.8,60.2 503.3,60.2 504.2,56.8 502.7,56.8" fill="#e0421f"/>
<polygon points="504.3,60.2 507.8,60.2 508.7,56.8 505.2,56.8" fill="#e0421f"/>
<polygon points="508.8,60.2 510.3,60.2 511.2,56.8 509.7,56.8" fill="#e0421f"/>
<polygon points="511.6,60.2 513.1,60.2 514.0,56.8 512.5,56.8" fill="#e0421f"/>
<polygon points="514.4,60.2 515.9,60.2 516.8,56.8 515.3,56.8" fill="#e0421f"/>
<polygon points="516.9,60.2 522.9,60.2 523.8,56.8 517.8,56.8" fill="#e0421f"/>
<polygon points="523.5,60.2 529.5,60.2 530.4,56.8 524.4,56.8" fill="#e0421f"/>
<polygon points="530.1,60.2 534.6,60.2 535.5,56.8 531.0,56.8" fill="#e0421f"/>
<polygon points="535.4,60.2 537.9,60.2 538.8,56.8 536.3,56.8" fill="#e0421f"/>
<polygon points="539.2,60.2 540.7,60.2 541.6,56.8 540.1,56.8" fill="#e0421f"/>
<polygon points="541.3,60.2 547.3,60.2 548.2,56.8 542.2,56.8" fill="#e0421f"/>
<polygon points="547.9,60.2 552.4,60.2 553.3,56.8 548.8,56.8" fill="#e0421f"/>
<polygon points="553.2,60.2 554.7,60.2 555.6,56.8 554.1,56.8" fill="#e0421f"/>
<polygon points="555.7,60.2 557.2,60.2 558.1,56.8 556.6,56.8" fill="#e0421f"/>
<polygon points="557.8,60.2 559.3,60.2 560.2,56.8 558.7,56.8" fill="#e0421f"/>
<polygon points="560.6,60.2 564.1,60.2 565.0,56.8 561.5,56.8" fill="#e0421f"/>
<polygon points="565.1,60.2 566.6,60.2 567.5,56.8 566.0,56.8" fill="#e0421f"/>
<polygon points="567.2,60.2 573.2,60.2 574.1,56.8 568.1,56.8" fill="#e0421f"/>
<polygon points="574.0,60.2 575.5,60.2 576.4,56.8 574.9,56.8" fill="#e0421f"/>
<polygon points="576.1,60.2 582.1,60.2 583.0,56.8 577.0,56.8" fill="#e0421f"/>
<polygon points="582.7,60.2 588.7,60.2 589.6,56.8 583.6,56.8" fill="#e0421f"/>
<polygon points="589.7,60.2 595.7,60.2 596.6,56.8 590.6,56.8" fill="#e0421f"/>
<polygon points="596.5,60.2 597.5,60.2 598.4,56.8 597.4,56.8" fill="#e0421f"/>
<rect x="496.46" y="58.25" width="101.04" height="0.6" fill="#f8d890" opacity="0.35"/>
<rect x="496.46" y="84.65" width="101.04" height="3.4" fill="#f2b468"/>
<polygon points="496.5,88.1 499.0,88.1 499.9,84.7 497.4,84.7" fill="#e0421f"/>
<polygon points="499.8,88.1 504.3,88.1 505.2,84.7 500.7,84.7" fill="#e0421f"/>
<polygon points="505.6,88.1 509.1,88.1 510.0,84.7 506.5,84.7" fill="#e0421f"/>
<polygon points="510.1,88.1 516.1,88.1 517.0,84.7 511.0,84.7" fill="#e0421f"/>
<polygon points="517.4,88.1 520.9,88.1 521.8,84.7 518.3,84.7" fill="#e0421f"/>
<polygon points="522.2,88.1 523.7,88.1 524.6,84.7 523.1,84.7" fill="#e0421f"/>
<polygon points="525.0,88.1 531.0,88.1 531.9,84.7 525.9,84.7" fill="#e0421f"/>
<polygon points="531.8,88.1 536.3,88.1 537.2,84.7 532.7,84.7" fill="#e0421f"/>
<polygon points="537.1,88.1 541.6,88.1 542.5,84.7 538.0,84.7" fill="#e0421f"/>
<polygon points="542.9,88.1 545.4,88.1 546.3,84.7 543.8,84.7" fill="#e0421f"/>
<polygon points="546.7,88.1 549.2,88.1 550.1,84.7 547.6,84.7" fill="#e0421f"/>
<polygon points="550.0,88.1 551.5,88.1 552.4,84.7 550.9,84.7" fill="#e0421f"/>
<polygon points="552.8,88.1 557.3,88.1 558.2,84.7 553.7,84.7" fill="#e0421f"/>
<polygon points="558.6,88.1 564.6,88.1 565.5,84.7 559.5,84.7" fill="#e0421f"/>
<polygon points="565.4,88.1 567.9,88.1 568.8,84.7 566.3,84.7" fill="#e0421f"/>
<polygon points="568.9,88.1 571.4,88.1 572.3,84.7 569.8,84.7" fill="#e0421f"/>
<polygon points="572.2,88.1 578.2,88.1 579.1,84.7 573.1,84.7" fill="#e0421f"/>
<polygon points="579.2,88.1 581.7,88.1 582.6,84.7 580.1,84.7" fill="#e0421f"/>
<polygon points="582.7,88.1 587.2,88.1 588.1,84.7 583.6,84.7" fill="#e0421f"/>
<polygon points="588.2,88.1 590.7,88.1 591.6,84.7 589.1,84.7" fill="#e0421f"/>
<polygon points="591.7,88.1 593.2,88.1 594.1,84.7 592.6,84.7" fill="#e0421f"/>
<polygon points="594.2,88.1 597.5,88.1 598.4,84.7 595.1,84.7" fill="#e0421f"/>
<rect x="496.46" y="86.05" width="101.04" height="0.6" fill="#f8d890" opacity="0.35"/>
<rect x="496.46" y="105.50" width="101.04" height="3.4" fill="#f2b468"/>
<polygon points="496.5,108.9 499.0,108.9 499.9,105.5 497.4,105.5" fill="#e0421f"/>
<polygon points="499.8,108.9 505.8,108.9 506.7,105.5 500.7,105.5" fill="#e0421f"/>
<polygon points="506.8,108.9 509.3,108.9 510.2,105.5 507.7,105.5" fill="#e0421f"/>
<polygon points="510.3,108.9 514.8,108.9 515.7,105.5 511.2,105.5" fill="#e0421f"/>
<polygon points="515.6,108.9 520.1,108.9 521.0,105.5 516.5,105.5" fill="#e0421f"/>
<polygon points="521.4,108.9 527.4,108.9 528.3,105.5 522.3,105.5" fill="#e0421f"/>
<polygon points="528.2,108.9 532.7,108.9 533.6,105.5 529.1,105.5" fill="#e0421f"/>
<polygon points="533.3,108.9 537.8,108.9 538.7,105.5 534.2,105.5" fill="#e0421f"/>
<polygon points="538.4,108.9 542.9,108.9 543.8,105.5 539.3,105.5" fill="#e0421f"/>
<polygon points="543.5,108.9 548.0,108.9 548.9,105.5 544.4,105.5" fill="#e0421f"/>
<polygon points="548.8,108.9 551.3,108.9 552.2,105.5 549.7,105.5" fill="#e0421f"/>
<polygon points="551.9,108.9 554.4,108.9 555.3,105.5 552.8,105.5" fill="#e0421f"/>
<polygon points="555.4,108.9 557.9,108.9 558.8,105.5 556.3,105.5" fill="#e0421f"/>
<polygon points="558.7,108.9 562.2,108.9 563.1,105.5 559.6,105.5" fill="#e0421f"/>
<polygon points="563.0,108.9 565.5,108.9 566.4,105.5 563.9,105.5" fill="#e0421f"/>
<polygon points="566.1,108.9 569.6,108.9 570.5,105.5 567.0,105.5" fill="#e0421f"/>
<polygon points="570.4,108.9 571.9,108.9 572.8,105.5 571.3,105.5" fill="#e0421f"/>
<polygon points="572.9,108.9 575.4,108.9 576.3,105.5 573.8,105.5" fill="#e0421f"/>
<polygon points="576.7,108.9 578.2,108.9 579.1,105.5 577.6,105.5" fill="#e0421f"/>
<polygon points="578.8,108.9 580.3,108.9 581.2,105.5 579.7,105.5" fill="#e0421f"/>
<polygon points="580.9,108.9 584.4,108.9 585.3,105.5 581.8,105.5" fill="#e0421f"/>
<polygon points="585.4,108.9 586.9,108.9 587.8,105.5 586.3,105.5" fill="#e0421f"/>
<polygon points="587.9,108.9 592.4,108.9 593.3,105.5 588.8,105.5" fill="#e0421f"/>
<polygon points="593.4,108.9 594.9,108.9 595.8,105.5 594.3,105.5" fill="#e0421f"/>
<polygon points="595.5,108.9 597.5,108.9 598.4,105.5 596.4,105.5" fill="#e0421f"/>
<rect x="496.46" y="106.90" width="101.04" height="0.6" fill="#f8d890" opacity="0.35"/>
<polygon points="363.3,22.1 365.1,25.2 361.5,25.2" fill="#c0c0ec" stroke="#5258b8" stroke-width="0.65"/>
<polygon points="380.7,22.1 382.5,25.2 378.9,25.2" fill="#c0c0ec" stroke="#5258b8" stroke-width="0.65"/>
<polygon points="431.6,22.1 433.4,25.2 429.8,25.2" fill="#c0c0ec" stroke="#5258b8" stroke-width="0.65"/>
<polygon points="439.0,22.1 440.8,25.2 437.2,25.2" fill="#c0c0ec" stroke="#5258b8" stroke-width="0.65"/>
<polygon points="454.7,22.1 456.5,25.2 452.9,25.2" fill="#c0c0ec" stroke="#5258b8" stroke-width="0.65"/>
<polygon points="490.4,22.1 492.2,25.2 488.6,25.2" fill="#c0c0ec" stroke="#5258b8" stroke-width="0.65"/>
<polygon points="350.7,29.1 352.5,32.1 348.9,32.1" fill="#c0c0ec" stroke="#5258b8" stroke-width="0.65"/>
<polygon points="359.7,29.1 361.5,32.1 357.9,32.1" fill="#c0c0ec" stroke="#5258b8" stroke-width="0.65"/>
<polygon points="362.5,29.1 364.3,32.1 360.7,32.1" fill="#c0c0ec" stroke="#5258b8" stroke-width="0.65"/>
<polygon points="376.5,29.1 378.3,32.1 374.7,32.1" fill="#c0c0ec" stroke="#5258b8" stroke-width="0.65"/>
<polygon points="443.6,29.1 445.4,32.1 441.8,32.1" fill="#c0c0ec" stroke="#5258b8" stroke-width="0.65"/>
<polygon points="456.4,29.1 458.2,32.1 454.6,32.1" fill="#c0c0ec" stroke="#5258b8" stroke-width="0.65"/>
<polygon points="469.4,29.1 471.2,32.1 467.6,32.1" fill="#c0c0ec" stroke="#5258b8" stroke-width="0.65"/>
<polygon points="481.4,29.1 483.2,32.1 479.6,32.1" fill="#c0c0ec" stroke="#5258b8" stroke-width="0.65"/>
<polygon points="484.1,29.1 485.9,32.1 482.3,32.1" fill="#c0c0ec" stroke="#5258b8" stroke-width="0.65"/>
<polygon points="533.9,29.1 535.7,32.1 532.1,32.1" fill="#c0c0ec" stroke="#5258b8" stroke-width="0.65"/>
<polygon points="557.4,29.1 559.2,32.1 555.6,32.1" fill="#c0c0ec" stroke="#5258b8" stroke-width="0.65"/>
<polygon points="346.5,36.0 348.3,39.1 344.7,39.1" fill="#c0c0ec" stroke="#5258b8" stroke-width="0.65"/>
<polygon points="349.2,36.0 351.0,39.1 347.4,39.1" fill="#c0c0ec" stroke="#5258b8" stroke-width="0.65"/>
<polygon points="359.1,36.0 360.9,39.1 357.3,39.1" fill="#c0c0ec" stroke="#5258b8" stroke-width="0.65"/>
<polygon points="367.5,36.0 369.3,39.1 365.7,39.1" fill="#c0c0ec" stroke="#5258b8" stroke-width="0.65"/>
<polygon points="371.3,36.0 373.1,39.1 369.5,39.1" fill="#c0c0ec" stroke="#5258b8" stroke-width="0.65"/>
<polygon points="415.7,36.0 417.5,39.1 413.9,39.1" fill="#c0c0ec" stroke="#5258b8" stroke-width="0.65"/>
<polygon points="442.1,36.0 443.9,39.1 440.3,39.1" fill="#c0c0ec" stroke="#5258b8" stroke-width="0.65"/>
<polygon points="500.7,43.0 502.5,46.1 498.9,46.1" fill="#c0c0ec" stroke="#5258b8" stroke-width="0.65"/>
<polygon points="503.4,43.0 505.2,46.1 501.6,46.1" fill="#c0c0ec" stroke="#5258b8" stroke-width="0.65"/>
<polygon points="546.0,43.0 547.8,46.1 544.2,46.1" fill="#c0c0ec" stroke="#5258b8" stroke-width="0.65"/>
<polygon points="553.8,43.0 555.6,46.1 552.0,46.1" fill="#c0c0ec" stroke="#5258b8" stroke-width="0.65"/>
<polygon points="562.8,43.0 564.6,46.1 561.0,46.1" fill="#c0c0ec" stroke="#5258b8" stroke-width="0.65"/>
<polygon points="585.2,43.0 587.0,46.1 583.4,46.1" fill="#c0c0ec" stroke="#5258b8" stroke-width="0.65"/>
<polygon points="364.0,49.9 365.8,53.0 362.2,53.0" fill="#c0c0ec" stroke="#5258b8" stroke-width="0.65"/>
<polygon points="375.0,49.9 376.8,53.0 373.2,53.0" fill="#c0c0ec" stroke="#5258b8" stroke-width="0.65"/>
<polygon points="380.7,49.9 382.5,53.0 378.9,53.0" fill="#c0c0ec" stroke="#5258b8" stroke-width="0.65"/>
<polygon points="397.5,49.9 399.3,53.0 395.7,53.0" fill="#c0c0ec" stroke="#5258b8" stroke-width="0.65"/>
<polygon points="409.4,49.9 411.2,53.0 407.6,53.0" fill="#c0c0ec" stroke="#5258b8" stroke-width="0.65"/>
<polygon points="419.0,49.9 420.8,53.0 417.2,53.0" fill="#c0c0ec" stroke="#5258b8" stroke-width="0.65"/>
<polygon points="419.7,49.9 421.5,53.0 417.9,53.0" fill="#c0c0ec" stroke="#5258b8" stroke-width="0.65"/>
<polygon points="492.5,49.9 494.3,53.0 490.7,53.0" fill="#c0c0ec" stroke="#5258b8" stroke-width="0.65"/>
<polygon points="498.2,49.9 500.0,53.0 496.4,53.0" fill="#c0c0ec" stroke="#5258b8" stroke-width="0.65"/>
<polygon points="516.0,49.9 517.8,53.0 514.2,53.0" fill="#c0c0ec" stroke="#5258b8" stroke-width="0.65"/>
<polygon points="537.0,49.9 538.8,53.0 535.2,53.0" fill="#c0c0ec" stroke="#5258b8" stroke-width="0.65"/>
<polygon points="541.2,49.9 543.0,53.0 539.4,53.0" fill="#c0c0ec" stroke="#5258b8" stroke-width="0.65"/>
<polygon points="562.8,49.9 564.6,53.0 561.0,53.0" fill="#c0c0ec" stroke="#5258b8" stroke-width="0.65"/>
<polygon points="571.0,49.9 572.8,53.0 569.2,53.0" fill="#c0c0ec" stroke="#5258b8" stroke-width="0.65"/>
<polygon points="576.2,49.9 578.0,53.0 574.4,53.0" fill="#c0c0ec" stroke="#5258b8" stroke-width="0.65"/>
<polygon points="589.9,49.9 591.7,53.0 588.1,53.0" fill="#c0c0ec" stroke="#5258b8" stroke-width="0.65"/>
<polygon points="360.8,56.8 362.6,59.9 359.0,59.9" fill="#c0c0ec" stroke="#5258b8" stroke-width="0.65"/>
<polygon points="394.3,56.8 396.1,59.9 392.5,59.9" fill="#c0c0ec" stroke="#5258b8" stroke-width="0.65"/>
<polygon points="414.3,56.8 416.1,59.9 412.5,59.9" fill="#c0c0ec" stroke="#5258b8" stroke-width="0.65"/>
<polygon points="433.7,56.8 435.5,59.9 431.9,59.9" fill="#c0c0ec" stroke="#5258b8" stroke-width="0.65"/>
<polygon points="456.4,56.8 458.2,59.9 454.6,59.9" fill="#c0c0ec" stroke="#5258b8" stroke-width="0.65"/>
<polygon points="479.9,56.8 481.7,59.9 478.1,59.9" fill="#c0c0ec" stroke="#5258b8" stroke-width="0.65"/>
<polygon points="484.7,56.8 486.5,59.9 482.9,59.9" fill="#c0c0ec" stroke="#5258b8" stroke-width="0.65"/>
<polygon points="488.3,56.8 490.1,59.9 486.5,59.9" fill="#c0c0ec" stroke="#5258b8" stroke-width="0.65"/>
<polygon points="579.8,63.8 581.6,66.9 578.0,66.9" fill="#c0c0ec" stroke="#5258b8" stroke-width="0.65"/>
<polygon points="597.2,63.8 599.0,66.9 595.4,66.9" fill="#c0c0ec" stroke="#5258b8" stroke-width="0.65"/>
<polygon points="370.2,70.8 372.0,73.9 368.4,73.9" fill="#c0c0ec" stroke="#5258b8" stroke-width="0.65"/>
<polygon points="376.5,70.8 378.3,73.9 374.7,73.9" fill="#c0c0ec" stroke="#5258b8" stroke-width="0.65"/>
<polygon points="403.8,70.8 405.6,73.9 402.0,73.9" fill="#c0c0ec" stroke="#5258b8" stroke-width="0.65"/>
<polygon points="445.7,70.8 447.5,73.9 443.9,73.9" fill="#c0c0ec" stroke="#5258b8" stroke-width="0.65"/>
<polygon points="451.1,70.8 452.9,73.9 449.3,73.9" fill="#c0c0ec" stroke="#5258b8" stroke-width="0.65"/>
<polygon points="455.8,70.8 457.6,73.9 454.0,73.9" fill="#c0c0ec" stroke="#5258b8" stroke-width="0.65"/>
<polygon points="469.4,70.8 471.2,73.9 467.6,73.9" fill="#c0c0ec" stroke="#5258b8" stroke-width="0.65"/>
<polygon points="473.0,70.8 474.8,73.9 471.2,73.9" fill="#c0c0ec" stroke="#5258b8" stroke-width="0.65"/>
<polygon points="475.7,70.8 477.5,73.9 473.9,73.9" fill="#c0c0ec" stroke="#5258b8" stroke-width="0.65"/>
<polygon points="506.6,70.8 508.4,73.9 504.8,73.9" fill="#c0c0ec" stroke="#5258b8" stroke-width="0.65"/>
<polygon points="519.6,70.8 521.4,73.9 517.8,73.9" fill="#c0c0ec" stroke="#5258b8" stroke-width="0.65"/>
<polygon points="522.3,70.8 524.1,73.9 520.5,73.9" fill="#c0c0ec" stroke="#5258b8" stroke-width="0.65"/>
<polygon points="555.9,70.8 557.7,73.9 554.1,73.9" fill="#c0c0ec" stroke="#5258b8" stroke-width="0.65"/>
<polygon points="577.3,70.8 579.1,73.9 575.5,73.9" fill="#c0c0ec" stroke="#5258b8" stroke-width="0.65"/>
<polygon points="590.9,70.8 592.7,73.9 589.1,73.9" fill="#c0c0ec" stroke="#5258b8" stroke-width="0.65"/>
<polygon points="348.2,77.7 350.0,80.8 346.4,80.8" fill="#c0c0ec" stroke="#5258b8" stroke-width="0.65"/>
<polygon points="364.0,77.7 365.8,80.8 362.2,80.8" fill="#c0c0ec" stroke="#5258b8" stroke-width="0.65"/>
<polygon points="391.8,77.7 393.6,80.8 390.0,80.8" fill="#c0c0ec" stroke="#5258b8" stroke-width="0.65"/>
<polygon points="393.9,77.7 395.7,80.8 392.1,80.8" fill="#c0c0ec" stroke="#5258b8" stroke-width="0.65"/>
<polygon points="399.0,77.7 400.8,80.8 397.2,80.8" fill="#c0c0ec" stroke="#5258b8" stroke-width="0.65"/>
<polygon points="414.3,77.7 416.1,80.8 412.5,80.8" fill="#c0c0ec" stroke="#5258b8" stroke-width="0.65"/>
<polygon points="442.1,77.7 443.9,80.8 440.3,80.8" fill="#c0c0ec" stroke="#5258b8" stroke-width="0.65"/>
<polygon points="470.0,77.7 471.8,80.8 468.2,80.8" fill="#c0c0ec" stroke="#5258b8" stroke-width="0.65"/>
<polygon points="477.8,77.7 479.6,80.8 476.0,80.8" fill="#c0c0ec" stroke="#5258b8" stroke-width="0.65"/>
<polygon points="481.0,77.7 482.8,80.8 479.2,80.8" fill="#c0c0ec" stroke="#5258b8" stroke-width="0.65"/>
<polygon points="507.0,77.7 508.8,80.8 505.2,80.8" fill="#c0c0ec" stroke="#5258b8" stroke-width="0.65"/>
<polygon points="518.8,77.7 520.6,80.8 517.0,80.8" fill="#c0c0ec" stroke="#5258b8" stroke-width="0.65"/>
<polygon points="523.4,77.7 525.2,80.8 521.6,80.8" fill="#c0c0ec" stroke="#5258b8" stroke-width="0.65"/>
<polygon points="543.9,77.7 545.7,80.8 542.1,80.8" fill="#c0c0ec" stroke="#5258b8" stroke-width="0.65"/>
<polygon points="431.6,84.7 433.4,87.8 429.8,87.8" fill="#c0c0ec" stroke="#5258b8" stroke-width="0.65"/>
<polygon points="455.8,84.7 457.6,87.8 454.0,87.8" fill="#c0c0ec" stroke="#5258b8" stroke-width="0.65"/>
<polygon points="474.6,84.7 476.4,87.8 472.8,87.8" fill="#c0c0ec" stroke="#5258b8" stroke-width="0.65"/>
<polygon points="485.5,84.7 487.3,87.8 483.7,87.8" fill="#c0c0ec" stroke="#5258b8" stroke-width="0.65"/>
<polygon points="400.6,91.6 402.4,94.7 398.8,94.7" fill="#c0c0ec" stroke="#5258b8" stroke-width="0.65"/>
<polygon points="510.8,91.6 512.6,94.7 509.0,94.7" fill="#c0c0ec" stroke="#5258b8" stroke-width="0.65"/>
<polygon points="517.5,91.6 519.3,94.7 515.7,94.7" fill="#c0c0ec" stroke="#5258b8" stroke-width="0.65"/>
<polygon points="565.7,91.6 567.5,94.7 563.9,94.7" fill="#c0c0ec" stroke="#5258b8" stroke-width="0.65"/>
<polygon points="568.9,91.6 570.7,94.7 567.1,94.7" fill="#c0c0ec" stroke="#5258b8" stroke-width="0.65"/>
<polygon points="576.2,91.6 578.0,94.7 574.4,94.7" fill="#c0c0ec" stroke="#5258b8" stroke-width="0.65"/>
<polygon points="377.1,98.5 378.9,101.7 375.3,101.7" fill="#c0c0ec" stroke="#5258b8" stroke-width="0.65"/>
<polygon points="383.9,98.5 385.7,101.7 382.1,101.7" fill="#c0c0ec" stroke="#5258b8" stroke-width="0.65"/>
<polygon points="416.4,98.5 418.2,101.7 414.6,101.7" fill="#c0c0ec" stroke="#5258b8" stroke-width="0.65"/>
<polygon points="431.6,98.5 433.4,101.7 429.8,101.7" fill="#c0c0ec" stroke="#5258b8" stroke-width="0.65"/>
<polygon points="466.7,98.5 468.5,101.7 464.9,101.7" fill="#c0c0ec" stroke="#5258b8" stroke-width="0.65"/>
<polygon points="479.3,98.5 481.1,101.7 477.5,101.7" fill="#c0c0ec" stroke="#5258b8" stroke-width="0.65"/>
<polygon points="522.3,98.5 524.1,101.7 520.5,101.7" fill="#c0c0ec" stroke="#5258b8" stroke-width="0.65"/>
<polygon points="536.0,98.5 537.8,101.7 534.2,101.7" fill="#c0c0ec" stroke="#5258b8" stroke-width="0.65"/>
<polygon points="556.3,98.5 558.1,101.7 554.5,101.7" fill="#c0c0ec" stroke="#5258b8" stroke-width="0.65"/>
<polygon points="595.1,98.5 596.9,101.7 593.3,101.7" fill="#c0c0ec" stroke="#5258b8" stroke-width="0.65"/>
<polygon points="431.6,105.5 433.4,108.6 429.8,108.6" fill="#c0c0ec" stroke="#5258b8" stroke-width="0.65"/>
<polygon points="439.0,105.5 440.8,108.6 437.2,108.6" fill="#c0c0ec" stroke="#5258b8" stroke-width="0.65"/>
<polygon points="462.5,105.5 464.3,108.6 460.7,108.6" fill="#c0c0ec" stroke="#5258b8" stroke-width="0.65"/>
<polygon points="349.2,112.5 351.0,115.6 347.4,115.6" fill="#c0c0ec" stroke="#5258b8" stroke-width="0.65"/>
<polygon points="389.7,112.5 391.5,115.6 387.9,115.6" fill="#c0c0ec" stroke="#5258b8" stroke-width="0.65"/>
<polygon points="397.5,112.5 399.3,115.6 395.7,115.6" fill="#c0c0ec" stroke="#5258b8" stroke-width="0.65"/>
<polygon points="431.0,112.5 432.8,115.6 429.2,115.6" fill="#c0c0ec" stroke="#5258b8" stroke-width="0.65"/>
<polygon points="444.9,112.5 446.7,115.6 443.1,115.6" fill="#c0c0ec" stroke="#5258b8" stroke-width="0.65"/>
<polygon points="449.9,112.5 451.7,115.6 448.1,115.6" fill="#c0c0ec" stroke="#5258b8" stroke-width="0.65"/>
<polygon points="498.2,112.5 500.0,115.6 496.4,115.6" fill="#c0c0ec" stroke="#5258b8" stroke-width="0.65"/>
<polygon points="504.9,112.5 506.7,115.6 503.1,115.6" fill="#c0c0ec" stroke="#5258b8" stroke-width="0.65"/>
<polygon points="510.8,112.5 512.6,115.6 509.0,115.6" fill="#c0c0ec" stroke="#5258b8" stroke-width="0.65"/>
<polygon points="522.3,112.5 524.1,115.6 520.5,115.6" fill="#c0c0ec" stroke="#5258b8" stroke-width="0.65"/>
<polygon points="590.3,112.5 592.1,115.6 588.5,115.6" fill="#c0c0ec" stroke="#5258b8" stroke-width="0.65"/>
<polygon points="364.6,119.4 366.4,122.5 362.8,122.5" fill="#c0c0ec" stroke="#5258b8" stroke-width="0.65"/>
<polygon points="384.9,119.4 386.7,122.5 383.1,122.5" fill="#c0c0ec" stroke="#5258b8" stroke-width="0.65"/>
<polygon points="419.1,119.4 420.9,122.5 417.3,122.5" fill="#c0c0ec" stroke="#5258b8" stroke-width="0.65"/>
<polygon points="419.7,119.4 421.5,122.5 417.9,122.5" fill="#c0c0ec" stroke="#5258b8" stroke-width="0.65"/>
<polygon points="436.5,119.4 438.3,122.5 434.7,122.5" fill="#c0c0ec" stroke="#5258b8" stroke-width="0.65"/>
<polygon points="439.0,119.4 440.8,122.5 437.2,122.5" fill="#c0c0ec" stroke="#5258b8" stroke-width="0.65"/>
<polygon points="506.6,119.4 508.4,122.5 504.8,122.5" fill="#c0c0ec" stroke="#5258b8" stroke-width="0.65"/>
<polygon points="510.8,119.4 512.6,122.5 509.0,122.5" fill="#c0c0ec" stroke="#5258b8" stroke-width="0.65"/>
<polygon points="585.7,119.4 587.5,122.5 583.9,122.5" fill="#c0c0ec" stroke="#5258b8" stroke-width="0.65"/>
<polygon points="363.3,126.4 365.1,129.5 361.5,129.5" fill="#c0c0ec" stroke="#5258b8" stroke-width="0.65"/>
<polygon points="379.2,126.4 381.0,129.5 377.4,129.5" fill="#c0c0ec" stroke="#5258b8" stroke-width="0.65"/>
<polygon points="391.2,126.4 393.0,129.5 389.4,129.5" fill="#c0c0ec" stroke="#5258b8" stroke-width="0.65"/>
<polygon points="536.0,126.4 537.8,129.5 534.2,129.5" fill="#c0c0ec" stroke="#5258b8" stroke-width="0.65"/>
<polygon points="570.6,126.4 572.4,129.5 568.8,129.5" fill="#c0c0ec" stroke="#5258b8" stroke-width="0.65"/>
<polygon points="579.8,126.4 581.6,129.5 578.0,129.5" fill="#c0c0ec" stroke="#5258b8" stroke-width="0.65"/>
<rect x="344.9" y="18" width="252.60" height="116" fill="none" stroke="#2f3226" stroke-width="1.3"/>
<line x1="370.16" y1="18" x2="370.16" y2="24" stroke="#2f3226" stroke-width="1.2"/>
<line x1="370.16" y1="134" x2="370.16" y2="128" stroke="#2f3226" stroke-width="1.2"/>
<line x1="395.42" y1="18" x2="395.42" y2="24" stroke="#2f3226" stroke-width="1.2"/>
<line x1="395.42" y1="134" x2="395.42" y2="128" stroke="#2f3226" stroke-width="1.2"/>
<line x1="420.68" y1="18" x2="420.68" y2="24" stroke="#2f3226" stroke-width="1.2"/>
<line x1="420.68" y1="134" x2="420.68" y2="128" stroke="#2f3226" stroke-width="1.2"/>
<line x1="445.94" y1="18" x2="445.94" y2="24" stroke="#2f3226" stroke-width="1.2"/>
<line x1="445.94" y1="134" x2="445.94" y2="128" stroke="#2f3226" stroke-width="1.2"/>
<line x1="471.20" y1="18" x2="471.20" y2="24" stroke="#2f3226" stroke-width="1.2"/>
<line x1="471.20" y1="134" x2="471.20" y2="128" stroke="#2f3226" stroke-width="1.2"/>
<line x1="496.46" y1="18" x2="496.46" y2="24" stroke="#2f3226" stroke-width="1.2"/>
<line x1="496.46" y1="134" x2="496.46" y2="128" stroke="#2f3226" stroke-width="1.2"/>
<line x1="521.72" y1="18" x2="521.72" y2="24" stroke="#2f3226" stroke-width="1.2"/>
<line x1="521.72" y1="134" x2="521.72" y2="128" stroke="#2f3226" stroke-width="1.2"/>
<line x1="546.98" y1="18" x2="546.98" y2="24" stroke="#2f3226" stroke-width="1.2"/>
<line x1="546.98" y1="134" x2="546.98" y2="128" stroke="#2f3226" stroke-width="1.2"/>
<line x1="572.24" y1="18" x2="572.24" y2="24" stroke="#2f3226" stroke-width="1.2"/>
<line x1="572.24" y1="134" x2="572.24" y2="128" stroke="#2f3226" stroke-width="1.2"/>
<line x1="344.9" y1="107.20" x2="350.9" y2="107.20" stroke="#2f3226" stroke-width="1.2"/>
<line x1="597.5" y1="107.20" x2="591.5" y2="107.20" stroke="#2f3226" stroke-width="1.2"/>
<text x="341" y="110.8" font-size="10" fill="#222" stroke="#222" stroke-width="0.22" text-anchor="end" font-family="Liberation Sans, sans-serif" >4</text>
<line x1="344.9" y1="79.40" x2="350.9" y2="79.40" stroke="#2f3226" stroke-width="1.2"/>
<line x1="597.5" y1="79.40" x2="591.5" y2="79.40" stroke="#2f3226" stroke-width="1.2"/>
<text x="341" y="83.0" font-size="10" fill="#222" stroke="#222" stroke-width="0.22" text-anchor="end" font-family="Liberation Sans, sans-serif" >8</text>
<line x1="344.9" y1="51.60" x2="350.9" y2="51.60" stroke="#2f3226" stroke-width="1.2"/>
<line x1="597.5" y1="51.60" x2="591.5" y2="51.60" stroke="#2f3226" stroke-width="1.2"/>
<text x="341" y="55.2" font-size="10" fill="#222" stroke="#222" stroke-width="0.22" text-anchor="end" font-family="Liberation Sans, sans-serif" >12</text>
<line x1="344.9" y1="23.80" x2="350.9" y2="23.80" stroke="#2f3226" stroke-width="1.2"/>
<line x1="597.5" y1="23.80" x2="591.5" y2="23.80" stroke="#2f3226" stroke-width="1.2"/>
<text x="341" y="27.400000000000002" font-size="10" fill="#222" stroke="#222" stroke-width="0.22" text-anchor="end" font-family="Liberation Sans, sans-serif" >16</text>
<text x="344.9" y="145.2" font-size="10" fill="#222" stroke="#222" stroke-width="0.22" text-anchor="middle" font-family="Liberation Sans, sans-serif" >0</text>
<text x="370.15999999999997" y="145.2" font-size="10" fill="#222" stroke="#222" stroke-width="0.22" text-anchor="middle" font-family="Liberation Sans, sans-serif" >100</text>
<text x="395.41999999999996" y="145.2" font-size="10" fill="#222" stroke="#222" stroke-width="0.22" text-anchor="middle" font-family="Liberation Sans, sans-serif" >200</text>
<text x="420.67999999999995" y="145.2" font-size="10" fill="#222" stroke="#222" stroke-width="0.22" text-anchor="middle" font-family="Liberation Sans, sans-serif" >300</text>
<text x="445.94" y="145.2" font-size="10" fill="#222" stroke="#222" stroke-width="0.22" text-anchor="middle" font-family="Liberation Sans, sans-serif" >400</text>
<text x="471.2" y="145.2" font-size="10" fill="#222" stroke="#222" stroke-width="0.22" text-anchor="middle" font-family="Liberation Sans, sans-serif" >500</text>
<text x="496.46" y="145.2" font-size="10" fill="#222" stroke="#222" stroke-width="0.22" text-anchor="middle" font-family="Liberation Sans, sans-serif" >600</text>
<text x="521.72" y="145.2" font-size="10" fill="#222" stroke="#222" stroke-width="0.22" text-anchor="middle" font-family="Liberation Sans, sans-serif" >700</text>
<text x="546.98" y="145.2" font-size="10" fill="#222" stroke="#222" stroke-width="0.22" text-anchor="middle" font-family="Liberation Sans, sans-serif" >800</text>
<text x="572.24" y="145.2" font-size="10" fill="#222" stroke="#222" stroke-width="0.22" text-anchor="middle" font-family="Liberation Sans, sans-serif" >900</text>
<text x="597.5" y="145.2" font-size="10" fill="#222" stroke="#222" stroke-width="0.22" text-anchor="middle" font-family="Liberation Sans, sans-serif" >1000</text>
<text x="472.2" y="156.6" font-size="12.0" fill="#222" stroke="#222" stroke-width="0.22" text-anchor="middle" font-family="Liberation Sans, sans-serif" >Epoch</text>
<text transform="translate(327.4,99) rotate(-90)" font-size="12.4" fill="#222" font-family="Liberation Sans, sans-serif" textLength="47" lengthAdjust="spacingAndGlyphs">Channel</text>
<polyline points="601.3,23 618.5,36 599.2,58" fill="none" stroke="#cc3a44" stroke-width="1.2"/>
<polyline points="600.2,74.6 618.5,92 600.2,101" fill="none" stroke="#4646b4" stroke-width="1.2"/>
<polyline points="618.5,92 599.6,120" fill="none" stroke="#4646b4" stroke-width="1.2"/>
<text x="624.3" y="39" font-size="8.8" fill="#c8323c" stroke="#c8323c" stroke-width="0.22" text-anchor="start" font-family="Liberation Sans, sans-serif" textLength="28.4" lengthAdjust="spacingAndGlyphs" >Pattern</text>
<text x="624.2" y="96" font-size="8.8" fill="#3c3ca8" stroke="#3c3ca8" stroke-width="0.22" text-anchor="start" font-family="Liberation Sans, sans-serif" textLength="23.6" lengthAdjust="spacingAndGlyphs" >Noise</text>

<rect x="345.30" y="172.5" width="75.90" height="85.5" fill="#dce9da"/>
<rect x="421.20" y="172.5" width="75.90" height="85.5" fill="#f1d0d5"/>
<rect x="497.10" y="172.5" width="101.20" height="85.5" fill="#fcf8d8"/>
<rect x="345.3" y="214.2" width="253.0" height="36.9" fill="#4556a8"/>
<rect x="390.4" y="231.6" width="1.3" height="4.6" fill="#dce9da"/>
<rect x="393.4" y="223.9" width="1.3" height="4.7" fill="#dce9da"/>
<rect x="400.0" y="222.9" width="1.1" height="5.9" fill="#dce9da"/>
<rect x="370.9" y="228.3" width="0.8" height="6.0" fill="#dce9da"/>
<rect x="419.0" y="227.4" width="1.4" height="6.8" fill="#dce9da"/>
<rect x="374.5" y="229.1" width="0.9" height="1.6" fill="#dce9da"/>
<rect x="376.3" y="222.4" width="1.3" height="2.8" fill="#dce9da"/>
<rect x="389.8" y="226.6" width="1.4" height="6.1" fill="#dce9da"/>
<rect x="393.0" y="226.5" width="1.1" height="5.1" fill="#dce9da"/>
<rect x="419.9" y="228.7" width="1.5" height="7.0" fill="#dce9da"/>
<rect x="383.0" y="225.5" width="0.9" height="2.8" fill="#dce9da"/>
<rect x="407.4" y="231.6" width="1.2" height="3.7" fill="#dce9da"/>
<rect x="417.7" y="222.0" width="1.0" height="6.2" fill="#dce9da"/>
<rect x="415.2" y="232.7" width="1.2" height="4.1" fill="#dce9da"/>
<rect x="369.9" y="229.8" width="1.1" height="5.0" fill="#dce9da"/>
<rect x="370.7" y="233.3" width="1.6" height="3.3" fill="#dce9da"/>
<rect x="372.4" y="223.2" width="0.9" height="2.9" fill="#dce9da"/>
<rect x="409.0" y="229.0" width="1.2" height="2.5" fill="#dce9da"/>
<rect x="376.3" y="223.2" width="1.4" height="5.5" fill="#dce9da"/>
<rect x="372.3" y="224.4" width="1.1" height="3.8" fill="#dce9da"/>
<rect x="418.4" y="224.8" width="1.7" height="5.9" fill="#dce9da"/>
<rect x="377.4" y="231.7" width="1.4" height="3.7" fill="#dce9da"/>
<rect x="371.4" y="223.7" width="1.1" height="6.9" fill="#dce9da"/>
<rect x="407.7" y="225.5" width="0.9" height="3.3" fill="#dce9da"/>
<rect x="370.9" y="224.5" width="1.4" height="4.7" fill="#dce9da"/>
<rect x="386.1" y="232.6" width="1.3" height="4.0" fill="#dce9da"/>
<rect x="397.0" y="223.6" width="1.0" height="6.3" fill="#dce9da"/>
<rect x="415.1" y="224.2" width="1.0" height="6.0" fill="#dce9da"/>
<rect x="405.9" y="223.6" width="1.8" height="6.7" fill="#dce9da"/>
<rect x="413.6" y="226.3" width="0.9" height="4.8" fill="#dce9da"/>
<rect x="368.1" y="224.0" width="1.5" height="6.8" fill="#dce9da"/>
<rect x="379.9" y="227.4" width="1.1" height="6.0" fill="#dce9da"/>
<rect x="375.5" y="222.7" width="1.0" height="5.5" fill="#dce9da"/>
<rect x="396.2" y="227.4" width="1.1" height="6.2" fill="#dce9da"/>
<rect x="415.5" y="222.2" width="1.1" height="2.6" fill="#dce9da"/>
<rect x="390.1" y="224.3" width="1.2" height="1.8" fill="#dce9da"/>
<rect x="396.9" y="226.6" width="1.7" height="2.2" fill="#dce9da"/>
<rect x="418.9" y="228.8" width="1.4" height="5.1" fill="#dce9da"/>
<rect x="373.6" y="222.2" width="1.7" height="1.7" fill="#dce9da"/>
<rect x="403.9" y="222.2" width="1.4" height="6.8" fill="#dce9da"/>
<rect x="392.0" y="225.0" width="1.8" height="5.5" fill="#dce9da"/>
<rect x="370.1" y="229.7" width="1.7" height="4.5" fill="#dce9da"/>
<rect x="405.8" y="229.6" width="1.7" height="5.4" fill="#dce9da"/>
<rect x="385.0" y="230.8" width="1.7" height="5.3" fill="#dce9da"/>
<rect x="388.5" y="229.9" width="1.4" height="5.8" fill="#dce9da"/>
<rect x="399.7" y="228.6" width="1.4" height="3.6" fill="#dce9da"/>
<rect x="370.3" y="231.9" width="1.7" height="5.0" fill="#dce9da"/>
<rect x="405.3" y="230.4" width="1.4" height="3.6" fill="#dce9da"/>
<rect x="389.8" y="222.7" width="1.6" height="6.1" fill="#dce9da"/>
<rect x="367.6" y="226.9" width="1.0" height="4.8" fill="#dce9da"/>
<rect x="403.7" y="228.6" width="1.7" height="4.2" fill="#dce9da"/>
<rect x="379.8" y="226.0" width="1.5" height="1.6" fill="#dce9da"/>
<rect x="376.9" y="233.4" width="1.5" height="2.4" fill="#dce9da"/>
<rect x="389.9" y="224.8" width="1.5" height="6.4" fill="#dce9da"/>
<rect x="376.7" y="231.0" width="1.7" height="3.9" fill="#dce9da"/>
<rect x="413.5" y="228.6" width="1.1" height="3.6" fill="#dce9da"/>
<rect x="373.4" y="231.0" width="1.6" height="4.2" fill="#dce9da"/>
<rect x="404.4" y="224.3" width="1.0" height="6.7" fill="#dce9da"/>
<rect x="390.3" y="224.6" width="1.2" height="3.0" fill="#dce9da"/>
<rect x="399.8" y="225.4" width="1.6" height="4.2" fill="#dce9da"/>
<rect x="419.0" y="222.8" width="0.8" height="4.0" fill="#dce9da"/>
<rect x="413.1" y="231.4" width="1.4" height="1.7" fill="#dce9da"/>
<rect x="382.7" y="222.2" width="0.9" height="5.9" fill="#dce9da"/>
<rect x="390.6" y="233.1" width="1.0" height="1.6" fill="#dce9da"/>
<rect x="373.6" y="230.3" width="1.2" height="1.8" fill="#dce9da"/>
<rect x="400.0" y="230.0" width="1.8" height="5.1" fill="#dce9da"/>
<rect x="403.0" y="227.9" width="1.0" height="2.6" fill="#dce9da"/>
<rect x="366.6" y="229.8" width="1.0" height="4.1" fill="#dce9da"/>
<rect x="380.7" y="230.1" width="1.3" height="3.4" fill="#dce9da"/>
<rect x="399.2" y="225.7" width="1.6" height="5.7" fill="#dce9da"/>
<rect x="414.9" y="234.1" width="1.5" height="2.0" fill="#dce9da"/>
<rect x="373.0" y="228.9" width="1.7" height="4.0" fill="#dce9da"/>
<rect x="386.3" y="231.1" width="1.6" height="4.6" fill="#dce9da"/>
<rect x="417.0" y="229.1" width="1.0" height="4.1" fill="#dce9da"/>
<rect x="405.0" y="227.8" width="1.5" height="6.0" fill="#dce9da"/>
<rect x="377.5" y="230.4" width="1.8" height="6.4" fill="#dce9da"/>
<rect x="395.0" y="224.9" width="1.7" height="5.8" fill="#dce9da"/>
<rect x="412.2" y="223.0" width="1.2" height="3.4" fill="#dce9da"/>
<rect x="395.7" y="226.5" width="0.8" height="5.7" fill="#dce9da"/>
<rect x="409.7" y="232.5" width="1.0" height="1.9" fill="#dce9da"/>
<rect x="384.1" y="223.3" width="0.9" height="5.8" fill="#dce9da"/>
<rect x="393.9" y="230.0" width="1.5" height="5.5" fill="#dce9da"/>
<rect x="417.1" y="232.2" width="0.9" height="4.2" fill="#dce9da"/>
<rect x="378.0" y="225.1" width="1.5" height="4.4" fill="#dce9da"/>
<rect x="400.5" y="231.0" width="1.4" height="4.4" fill="#dce9da"/>
<rect x="382.8" y="246.9" width="1.2" height="1.1" fill="#dce9da"/>
<rect x="377.2" y="248.2" width="1.0" height="1.4" fill="#dce9da"/>
<rect x="396.9" y="243.0" width="1.0" height="0.9" fill="#dce9da"/>
<rect x="398.7" y="248.8" width="1.0" height="0.8" fill="#dce9da"/>
<rect x="387.6" y="243.1" width="1.0" height="1.4" fill="#dce9da"/>
<rect x="403.3" y="243.1" width="1.0" height="0.8" fill="#dce9da"/>
<rect x="417.7" y="239.4" width="1.0" height="1.4" fill="#dce9da"/>
<rect x="372.9" y="246.5" width="1.2" height="1.1" fill="#dce9da"/>
<rect x="390.8" y="227.5" width="3.0" height="1.6" fill="#dce9da"/>
<rect x="414.1" y="232.2" width="2.4" height="1.0" fill="#dce9da"/>
<rect x="376.1" y="231.5" width="2.7" height="1.3" fill="#dce9da"/>
<rect x="384.5" y="226.8" width="3.9" height="1.7" fill="#dce9da"/>
<rect x="372.4" y="228.0" width="3.5" height="1.2" fill="#dce9da"/>
<rect x="393.6" y="229.0" width="3.3" height="1.4" fill="#dce9da"/>
<rect x="393.5" y="227.6" width="2.5" height="1.6" fill="#dce9da"/>
<rect x="399.2" y="232.8" width="3.6" height="1.6" fill="#dce9da"/>
<rect x="410.6" y="231.9" width="2.7" height="1.8" fill="#dce9da"/>
<rect x="412.9" y="228.5" width="2.9" height="1.9" fill="#dce9da"/>
<rect x="377.3" y="233.1" width="5.0" height="1.1" fill="#dce9da"/>
<rect x="378.4" y="228.1" width="4.2" height="1.1" fill="#dce9da"/>
<rect x="409.3" y="232.3" width="3.3" height="1.1" fill="#dce9da"/>
<rect x="386.9" y="226.1" width="4.1" height="1.2" fill="#dce9da"/>
<rect x="401.5" y="233.7" width="4.7" height="1.1" fill="#dce9da"/>
<rect x="392.3" y="230.0" width="4.3" height="1.7" fill="#dce9da"/>
<rect x="375.8" y="226.8" width="2.2" height="1.0" fill="#dce9da"/>
<rect x="394.7" y="230.5" width="3.5" height="1.1" fill="#dce9da"/>
<rect x="434.2" y="231.1" width="2.2" height="2.0" fill="#f1d0d5"/>
<rect x="489.1" y="221.7" width="1.8" height="1.9" fill="#f1d0d5"/>
<rect x="454.7" y="224.9" width="4.2" height="1.4" fill="#f1d0d5"/>
<rect x="458.6" y="228.2" width="3.0" height="0.9" fill="#f1d0d5"/>
<rect x="472.4" y="223.2" width="4.5" height="1.4" fill="#f1d0d5"/>
<rect x="475.2" y="223.3" width="2.9" height="1.1" fill="#f1d0d5"/>
<rect x="458.4" y="231.7" width="1.6" height="1.8" fill="#f1d0d5"/>
<rect x="472.6" y="228.6" width="4.5" height="1.3" fill="#f1d0d5"/>
<rect x="464.9" y="232.8" width="3.3" height="1.8" fill="#f1d0d5"/>
<rect x="439.6" y="229.9" width="4.7" height="1.8" fill="#f1d0d5"/>
<rect x="480.8" y="231.8" width="2.9" height="1.9" fill="#f1d0d5"/>
<rect x="471.9" y="230.2" width="4.2" height="1.3" fill="#f1d0d5"/>
<rect x="474.0" y="225.1" width="1.7" height="1.4" fill="#f1d0d5"/>
<rect x="421.3" y="228.7" width="2.7" height="1.6" fill="#f1d0d5"/>
<rect x="437.7" y="229.0" width="4.8" height="1.3" fill="#f1d0d5"/>
<rect x="469.3" y="227.4" width="3.5" height="1.3" fill="#f1d0d5"/>
<rect x="494.5" y="229.4" width="1.5" height="1.7" fill="#f1d0d5"/>
<rect x="493.0" y="228.4" width="1.6" height="1.7" fill="#f1d0d5"/>
<rect x="439.5" y="221.6" width="2.9" height="1.1" fill="#f1d0d5"/>
<rect x="448.3" y="224.0" width="1.8" height="1.9" fill="#f1d0d5"/>
<rect x="461.2" y="232.6" width="3.3" height="1.5" fill="#f1d0d5"/>
<rect x="494.1" y="230.7" width="1.9" height="1.0" fill="#f1d0d5"/>
<rect x="464.7" y="221.5" width="4.2" height="1.9" fill="#f1d0d5"/>
<rect x="432.3" y="223.0" width="3.2" height="1.4" fill="#f1d0d5"/>
<rect x="465.7" y="232.3" width="1.7" height="1.4" fill="#f1d0d5"/>
<rect x="459.5" y="225.4" width="3.6" height="1.2" fill="#f1d0d5"/>
<rect x="469.0" y="224.4" width="3.5" height="1.7" fill="#f1d0d5"/>
<rect x="442.4" y="223.9" width="1.5" height="0.9" fill="#f1d0d5"/>
<rect x="432.1" y="225.7" width="4.1" height="1.9" fill="#f1d0d5"/>
<rect x="475.9" y="232.9" width="1.7" height="1.9" fill="#f1d0d5"/>
<rect x="425.9" y="226.2" width="4.7" height="1.4" fill="#f1d0d5"/>
<rect x="492.5" y="227.3" width="2.4" height="1.9" fill="#f1d0d5"/>
<rect x="474.0" y="232.7" width="3.1" height="1.8" fill="#f1d0d5"/>
<rect x="465.2" y="228.5" width="1.9" height="1.4" fill="#f1d0d5"/>
<rect x="435.6" y="227.3" width="1.7" height="1.0" fill="#f1d0d5"/>
<rect x="453.3" y="226.5" width="3.8" height="1.2" fill="#f1d0d5"/>
<rect x="463.6" y="230.3" width="3.0" height="1.5" fill="#f1d0d5"/>
<rect x="494.3" y="229.8" width="1.7" height="1.2" fill="#f1d0d5"/>
<rect x="428.9" y="230.4" width="4.6" height="1.6" fill="#f1d0d5"/>
<rect x="447.1" y="229.2" width="2.5" height="1.5" fill="#f1d0d5"/>
<rect x="464.3" y="230.0" width="3.7" height="1.1" fill="#f1d0d5"/>
<rect x="438.9" y="232.0" width="4.9" height="1.9" fill="#f1d0d5"/>
<rect x="423.4" y="224.3" width="1.7" height="1.4" fill="#f1d0d5"/>
<rect x="466.6" y="227.5" width="1.9" height="1.0" fill="#f1d0d5"/>
<rect x="426.9" y="227.6" width="3.9" height="1.6" fill="#f1d0d5"/>
<rect x="435.2" y="222.3" width="1.0" height="3.2" fill="#f1d0d5"/>
<rect x="449.9" y="220.7" width="0.9" height="4.4" fill="#f1d0d5"/>
<rect x="452.5" y="227.9" width="0.9" height="3.7" fill="#f1d0d5"/>
<rect x="437.3" y="229.4" width="1.1" height="2.4" fill="#f1d0d5"/>
<rect x="446.3" y="222.9" width="1.2" height="5.0" fill="#f1d0d5"/>
<rect x="450.0" y="224.0" width="1.1" height="4.7" fill="#f1d0d5"/>
<rect x="424.3" y="220.7" width="0.9" height="4.6" fill="#f1d0d5"/>
<rect x="442.8" y="227.4" width="1.0" height="3.2" fill="#f1d0d5"/>
<rect x="451.1" y="222.6" width="1.3" height="1.8" fill="#f1d0d5"/>
<rect x="423.7" y="228.3" width="1.3" height="2.6" fill="#f1d0d5"/>
<rect x="431.7" y="224.3" width="1.3" height="2.0" fill="#f1d0d5"/>
<rect x="435.0" y="228.6" width="1.2" height="1.9" fill="#f1d0d5"/>
<rect x="456.8" y="228.4" width="1.1" height="4.8" fill="#f1d0d5"/>
<rect x="452.2" y="223.6" width="1.1" height="2.6" fill="#f1d0d5"/>
<rect x="457.4" y="222.3" width="1.1" height="4.6" fill="#f1d0d5"/>
<rect x="434.9" y="224.4" width="1.1" height="2.8" fill="#f1d0d5"/>
<rect x="428.2" y="228.4" width="1.2" height="3.5" fill="#f1d0d5"/>
<rect x="453.5" y="221.9" width="1.3" height="3.5" fill="#f1d0d5"/>
<rect x="455.3" y="220.3" width="1.2" height="2.5" fill="#f1d0d5"/>
<rect x="442.0" y="230.2" width="1.3" height="3.5" fill="#f1d0d5"/>
<rect x="452.3" y="226.7" width="1.4" height="1.7" fill="#f1d0d5"/>
<rect x="423.8" y="229.0" width="1.4" height="1.8" fill="#f1d0d5"/>
<rect x="423.8" y="221.5" width="1.3" height="3.7" fill="#f1d0d5"/>
<rect x="446.1" y="222.6" width="1.3" height="2.4" fill="#f1d0d5"/>
<rect x="441.1" y="223.9" width="1.0" height="4.2" fill="#f1d0d5"/>
<rect x="458.7" y="225.0" width="1.2" height="3.9" fill="#f1d0d5"/>
<rect x="449.0" y="229.2" width="1.1" height="4.0" fill="#f1d0d5"/>
<rect x="453.1" y="228.7" width="1.4" height="3.8" fill="#f1d0d5"/>
<rect x="453.4" y="229.0" width="1.2" height="4.6" fill="#f1d0d5"/>
<rect x="441.2" y="228.0" width="1.1" height="4.0" fill="#f1d0d5"/>
<rect x="472.2" y="243.2" width="2.2" height="5.3" fill="#f1d0d5"/>
<rect x="470.4" y="237.9" width="1.4" height="5.5" fill="#f1d0d5"/>
<rect x="467.0" y="236.1" width="1.2" height="12.7" fill="#f1d0d5"/>
<rect x="459.7" y="240.0" width="1.1" height="9.8" fill="#f1d0d5"/>
<rect x="457.6" y="240.0" width="2.1" height="8.1" fill="#f1d0d5"/>
<rect x="456.5" y="237.8" width="1.1" height="5.0" fill="#f1d0d5"/>
<rect x="464.7" y="238.7" width="1.1" height="10.5" fill="#f1d0d5"/>
<rect x="462.6" y="237.5" width="1.9" height="6.5" fill="#f1d0d5"/>
<rect x="467.8" y="241.0" width="1.5" height="8.9" fill="#f1d0d5"/>
<rect x="465.7" y="238.8" width="1.3" height="12.0" fill="#f1d0d5"/>
<rect x="477.4" y="237.2" width="1.1" height="12.6" fill="#f1d0d5"/>
<rect x="457.0" y="238.0" width="1.3" height="12.5" fill="#f1d0d5"/>
<rect x="476.6" y="237.7" width="2.2" height="8.6" fill="#f1d0d5"/>
<rect x="482.0" y="236.1" width="1.5" height="6.1" fill="#f1d0d5"/>
<rect x="470.2" y="238.7" width="1.6" height="11.2" fill="#f1d0d5"/>
<rect x="461.4" y="239.1" width="1.2" height="5.4" fill="#f1d0d5"/>
<rect x="490.6" y="240.0" width="2.2" height="8.6" fill="#f1d0d5"/>
<rect x="465.9" y="236.9" width="1.9" height="8.8" fill="#f1d0d5"/>
<rect x="455.1" y="239.1" width="2.0" height="11.4" fill="#f1d0d5"/>
<rect x="458.4" y="242.1" width="0.9" height="6.4" fill="#f1d0d5"/>
<rect x="474.7" y="242.5" width="1.6" height="8.2" fill="#f1d0d5"/>
<rect x="490.2" y="242.5" width="1.4" height="6.7" fill="#f1d0d5"/>
<rect x="492.6" y="244.4" width="1.1" height="4.8" fill="#f1d0d5"/>
<rect x="477.3" y="237.0" width="2.0" height="8.7" fill="#f1d0d5"/>
<rect x="467.8" y="236.6" width="1.2" height="6.8" fill="#f1d0d5"/>
<rect x="474.2" y="237.6" width="1.8" height="10.4" fill="#f1d0d5"/>
<rect x="459.3" y="239.4" width="2.2" height="7.5" fill="#f1d0d5"/>
<rect x="489.0" y="236.1" width="1.3" height="9.9" fill="#f1d0d5"/>
<rect x="484.1" y="241.0" width="1.4" height="6.1" fill="#f1d0d5"/>
<rect x="455.4" y="237.7" width="1.1" height="12.9" fill="#f1d0d5"/>
<rect x="480.3" y="239.2" width="1.6" height="6.6" fill="#f1d0d5"/>
<rect x="467.2" y="239.1" width="1.7" height="7.0" fill="#f1d0d5"/>
<rect x="465.5" y="242.7" width="1.3" height="5.8" fill="#f1d0d5"/>
<rect x="493.7" y="240.3" width="1.3" height="9.1" fill="#f1d0d5"/>
<rect x="488.9" y="237.4" width="0.9" height="4.8" fill="#f1d0d5"/>
<rect x="482.8" y="236.8" width="1.4" height="10.4" fill="#f1d0d5"/>
<rect x="489.3" y="236.5" width="1.1" height="9.3" fill="#f1d0d5"/>
<rect x="461.4" y="240.0" width="0.9" height="5.1" fill="#f1d0d5"/>
<rect x="492.7" y="239.7" width="1.7" height="7.8" fill="#f1d0d5"/>
<rect x="486.4" y="237.4" width="1.3" height="11.4" fill="#f1d0d5"/>
<rect x="434.7" y="242.4" width="1.1" height="1.0" fill="#f1d0d5"/>
<rect x="454.4" y="244.7" width="1.0" height="1.8" fill="#f1d0d5"/>
<rect x="421.1" y="241.7" width="1.1" height="1.3" fill="#dce9da"/>
<rect x="424.2" y="243.4" width="1.1" height="1.4" fill="#f1d0d5"/>
<rect x="449.0" y="239.6" width="1.1" height="1.6" fill="#f1d0d5"/>
<rect x="451.7" y="241.7" width="1.0" height="1.5" fill="#f1d0d5"/>
<rect x="510.6" y="226.9" width="4.9" height="1.5" fill="#fcf8d8"/>
<rect x="567.7" y="222.2" width="5.3" height="1.9" fill="#fcf8d8"/>
<rect x="558.9" y="221.5" width="2.8" height="1.2" fill="#fcf8d8"/>
<rect x="553.9" y="223.0" width="4.8" height="1.9" fill="#fcf8d8"/>
<rect x="532.4" y="221.7" width="3.9" height="2.0" fill="#fcf8d8"/>
<rect x="510.0" y="224.3" width="5.6" height="1.6" fill="#fcf8d8"/>
<rect x="552.3" y="226.5" width="3.1" height="2.0" fill="#fcf8d8"/>
<rect x="577.8" y="221.7" width="4.4" height="1.8" fill="#fcf8d8"/>
<rect x="525.2" y="222.4" width="5.6" height="1.6" fill="#fcf8d8"/>
<rect x="579.2" y="224.3" width="2.7" height="1.1" fill="#fcf8d8"/>
<rect x="499.7" y="226.9" width="2.7" height="1.9" fill="#fcf8d8"/>
<rect x="562.0" y="225.0" width="3.2" height="1.7" fill="#fcf8d8"/>
<rect x="534.5" y="225.8" width="4.4" height="1.0" fill="#fcf8d8"/>
<rect x="516.4" y="221.9" width="3.9" height="1.4" fill="#fcf8d8"/>
<rect x="553.2" y="224.1" width="2.7" height="1.3" fill="#fcf8d8"/>
<rect x="553.0" y="224.9" width="3.3" height="1.0" fill="#fcf8d8"/>
<rect x="563.3" y="226.8" width="2.6" height="1.6" fill="#fcf8d8"/>
<rect x="543.3" y="224.7" width="3.6" height="1.7" fill="#fcf8d8"/>
<rect x="571.9" y="223.9" width="5.0" height="2.0" fill="#fcf8d8"/>
<rect x="579.9" y="223.5" width="5.4" height="1.4" fill="#fcf8d8"/>
<rect x="552.8" y="224.2" width="5.6" height="1.5" fill="#fcf8d8"/>
<rect x="539.5" y="222.9" width="5.6" height="1.1" fill="#fcf8d8"/>
<rect x="568.7" y="225.4" width="5.6" height="1.6" fill="#fcf8d8"/>
<rect x="571.3" y="224.6" width="3.2" height="1.1" fill="#fcf8d8"/>
<rect x="508.9" y="224.0" width="3.8" height="1.4" fill="#fcf8d8"/>
<rect x="501.7" y="224.2" width="4.8" height="1.2" fill="#fcf8d8"/>
<rect x="527.0" y="222.4" width="3.6" height="1.1" fill="#fcf8d8"/>
<rect x="587.2" y="225.0" width="5.9" height="1.9" fill="#fcf8d8"/>
<rect x="538.4" y="222.3" width="5.2" height="1.7" fill="#fcf8d8"/>
<rect x="552.9" y="221.6" width="5.6" height="1.8" fill="#fcf8d8"/>
<rect x="508.8" y="226.7" width="4.2" height="1.0" fill="#fcf8d8"/>
<rect x="520.8" y="222.9" width="3.2" height="1.1" fill="#fcf8d8"/>
<rect x="585.6" y="223.4" width="5.3" height="1.4" fill="#fcf8d8"/>
<rect x="554.8" y="221.2" width="2.2" height="1.9" fill="#fcf8d8"/>
<rect x="527.1" y="226.6" width="4.0" height="2.0" fill="#fcf8d8"/>
<rect x="543.5" y="222.8" width="2.8" height="1.9" fill="#fcf8d8"/>
<rect x="585.7" y="226.0" width="2.8" height="1.4" fill="#fcf8d8"/>
<rect x="543.5" y="226.3" width="2.7" height="2.0" fill="#fcf8d8"/>
<rect x="516.6" y="222.1" width="4.5" height="1.9" fill="#fcf8d8"/>
<rect x="501.5" y="225.4" width="2.4" height="1.3" fill="#fcf8d8"/>
<rect x="558.0" y="227.0" width="1.2" height="6.3" fill="#fcf8d8"/>
<rect x="553.9" y="225.7" width="1.1" height="6.7" fill="#fcf8d8"/>
<rect x="544.5" y="228.9" width="1.3" height="3.5" fill="#fcf8d8"/>
<rect x="543.6" y="228.9" width="2.2" height="3.2" fill="#fcf8d8"/>
<rect x="547.5" y="228.6" width="1.9" height="5.3" fill="#fcf8d8"/>
<rect x="544.6" y="230.5" width="2.0" height="3.5" fill="#fcf8d8"/>
<rect x="545.5" y="224.5" width="2.5" height="5.2" fill="#fcf8d8"/>
<rect x="548.8" y="227.1" width="1.1" height="4.6" fill="#fcf8d8"/>
<rect x="552.0" y="225.8" width="2.2" height="3.4" fill="#fcf8d8"/>
<rect x="541.7" y="229.3" width="1.4" height="3.4" fill="#fcf8d8"/>
<rect x="545.6" y="225.1" width="2.3" height="4.7" fill="#fcf8d8"/>
<rect x="559.8" y="227.8" width="2.1" height="2.2" fill="#fcf8d8"/>
<rect x="547.7" y="225.9" width="1.3" height="6.6" fill="#fcf8d8"/>
<rect x="551.1" y="225.9" width="2.0" height="5.2" fill="#fcf8d8"/>
<rect x="555.7" y="227.0" width="2.3" height="4.6" fill="#fcf8d8"/>
<rect x="553.7" y="229.6" width="1.3" height="4.6" fill="#fcf8d8"/>
<rect x="555.6" y="228.7" width="1.4" height="2.8" fill="#fcf8d8"/>
<rect x="548.8" y="227.6" width="2.2" height="5.9" fill="#fcf8d8"/>
<rect x="544.7" y="225.3" width="1.9" height="4.4" fill="#fcf8d8"/>
<rect x="550.0" y="229.0" width="2.1" height="2.2" fill="#fcf8d8"/>
<rect x="551.5" y="224.7" width="1.2" height="6.4" fill="#fcf8d8"/>
<rect x="540.4" y="226.6" width="1.7" height="4.5" fill="#fcf8d8"/>
<rect x="545.3" y="224.3" width="2.4" height="6.0" fill="#fcf8d8"/>
<rect x="551.4" y="228.6" width="1.4" height="4.7" fill="#fcf8d8"/>
<rect x="542.9" y="224.3" width="1.5" height="3.6" fill="#fcf8d8"/>
<rect x="559.6" y="225.8" width="1.3" height="3.3" fill="#fcf8d8"/>
<rect x="505.5" y="225.0" width="1.0" height="4.4" fill="#fcf8d8"/>
<rect x="512.7" y="229.1" width="1.4" height="3.9" fill="#fcf8d8"/>
<rect x="502.7" y="226.6" width="1.0" height="2.9" fill="#fcf8d8"/>
<rect x="595.0" y="228.1" width="1.4" height="1.6" fill="#fcf8d8"/>
<rect x="596.6" y="227.6" width="1.4" height="2.0" fill="#fcf8d8"/>
<rect x="500.5" y="230.8" width="0.9" height="2.3" fill="#fcf8d8"/>
<rect x="536.4" y="227.2" width="0.9" height="2.5" fill="#fcf8d8"/>
<rect x="500.0" y="227.8" width="1.4" height="5.0" fill="#fcf8d8"/>
<rect x="519.8" y="228.2" width="1.0" height="2.4" fill="#fcf8d8"/>
<rect x="543.3" y="225.9" width="1.1" height="4.8" fill="#fcf8d8"/>
<rect x="596.1" y="224.3" width="1.1" height="3.6" fill="#fcf8d8"/>
<rect x="562.5" y="226.8" width="1.4" height="1.7" fill="#fcf8d8"/>
<rect x="584.2" y="229.7" width="1.2" height="3.6" fill="#fcf8d8"/>
<rect x="536.4" y="226.1" width="1.4" height="4.5" fill="#fcf8d8"/>
<rect x="518.4" y="225.3" width="1.2" height="2.7" fill="#fcf8d8"/>
<rect x="513.1" y="225.7" width="1.2" height="2.2" fill="#fcf8d8"/>
<rect x="527.8" y="230.9" width="1.3" height="3.1" fill="#fcf8d8"/>
<rect x="584.1" y="227.0" width="0.9" height="2.2" fill="#fcf8d8"/>
<rect x="566.7" y="226.0" width="0.8" height="2.8" fill="#fcf8d8"/>
<rect x="515.0" y="227.0" width="1.5" height="2.4" fill="#fcf8d8"/>
<rect x="569.1" y="226.7" width="0.9" height="2.4" fill="#fcf8d8"/>
<rect x="591.6" y="229.5" width="1.4" height="2.8" fill="#fcf8d8"/>
<rect x="588.6" y="226.7" width="1.1" height="1.6" fill="#fcf8d8"/>
<rect x="504.9" y="225.8" width="1.4" height="4.6" fill="#fcf8d8"/>
<rect x="549.2" y="227.3" width="1.0" height="1.7" fill="#fcf8d8"/>
<rect x="500.6" y="228.7" width="0.8" height="2.0" fill="#fcf8d8"/>
<rect x="528.2" y="227.8" width="0.9" height="3.0" fill="#fcf8d8"/>
<rect x="568.2" y="229.5" width="1.3" height="2.4" fill="#fcf8d8"/>
<rect x="511.4" y="226.2" width="1.4" height="2.2" fill="#fcf8d8"/>
<rect x="537.6" y="230.2" width="1.0" height="2.9" fill="#fcf8d8"/>
<rect x="526.1" y="225.6" width="0.8" height="2.7" fill="#fcf8d8"/>
<rect x="499.0" y="227.6" width="1.4" height="3.7" fill="#fcf8d8"/>
<rect x="595.5" y="229.0" width="1.5" height="2.5" fill="#fcf8d8"/>
<rect x="518.4" y="228.1" width="1.6" height="3.9" fill="#fcf8d8"/>
<rect x="584.6" y="228.9" width="0.9" height="2.3" fill="#fcf8d8"/>
<rect x="539.9" y="224.4" width="1.1" height="2.9" fill="#fcf8d8"/>
<rect x="529.8" y="225.9" width="0.9" height="3.2" fill="#fcf8d8"/>
<rect x="537.3" y="225.1" width="1.3" height="3.2" fill="#fcf8d8"/>
<rect x="520.8" y="226.8" width="1.1" height="1.8" fill="#fcf8d8"/>
<rect x="514.8" y="240.3" width="1.7" height="9.2" fill="#fcf8d8"/>
<rect x="568.6" y="240.8" width="1.4" height="4.2" fill="#fcf8d8"/>
<rect x="506.2" y="237.3" width="1.6" height="7.6" fill="#fcf8d8"/>
<rect x="557.4" y="238.9" width="1.2" height="8.2" fill="#fcf8d8"/>
<rect x="502.3" y="243.1" width="1.7" height="7.1" fill="#fcf8d8"/>
<rect x="525.7" y="237.7" width="1.6" height="10.0" fill="#fcf8d8"/>
<rect x="560.3" y="237.5" width="1.7" height="12.6" fill="#fcf8d8"/>
<rect x="592.4" y="238.9" width="1.8" height="10.9" fill="#fcf8d8"/>
<rect x="540.3" y="238.7" width="2.1" height="7.7" fill="#fcf8d8"/>
<rect x="586.2" y="243.0" width="0.9" height="7.4" fill="#fcf8d8"/>
<rect x="513.3" y="238.7" width="1.4" height="8.6" fill="#fcf8d8"/>
<rect x="595.7" y="238.7" width="1.2" height="5.3" fill="#fcf8d8"/>
<rect x="566.7" y="237.0" width="1.7" height="6.1" fill="#fcf8d8"/>
<rect x="538.6" y="240.9" width="1.8" height="6.2" fill="#fcf8d8"/>
<rect x="553.7" y="239.5" width="2.1" height="9.6" fill="#fcf8d8"/>
<rect x="594.9" y="239.4" width="2.2" height="7.0" fill="#fcf8d8"/>
<rect x="530.7" y="239.5" width="1.9" height="10.4" fill="#fcf8d8"/>
<rect x="594.5" y="237.4" width="1.8" height="11.4" fill="#fcf8d8"/>
<rect x="548.1" y="238.8" width="1.3" height="9.1" fill="#fcf8d8"/>
<rect x="573.4" y="238.2" width="1.2" height="8.8" fill="#fcf8d8"/>
<rect x="531.8" y="241.3" width="1.0" height="5.6" fill="#fcf8d8"/>
<rect x="506.2" y="238.0" width="1.9" height="4.6" fill="#fcf8d8"/>
<rect x="511.1" y="241.6" width="1.6" height="8.1" fill="#fcf8d8"/>
<rect x="515.9" y="238.9" width="0.9" height="11.8" fill="#fcf8d8"/>
<rect x="524.9" y="241.3" width="1.4" height="8.6" fill="#fcf8d8"/>
<rect x="570.2" y="242.5" width="1.3" height="6.3" fill="#fcf8d8"/>
<rect x="532.7" y="239.7" width="2.1" height="10.8" fill="#fcf8d8"/>
<rect x="555.6" y="241.4" width="1.8" height="7.8" fill="#fcf8d8"/>
<rect x="581.4" y="237.3" width="1.4" height="11.2" fill="#fcf8d8"/>
<rect x="565.6" y="238.5" width="0.8" height="6.1" fill="#fcf8d8"/>
<rect x="557.4" y="238.5" width="1.0" height="12.5" fill="#fcf8d8"/>
<rect x="567.4" y="240.9" width="1.4" height="7.8" fill="#fcf8d8"/>
<rect x="591.5" y="237.1" width="1.9" height="12.9" fill="#fcf8d8"/>
<rect x="511.6" y="239.8" width="2.0" height="4.4" fill="#fcf8d8"/>
<rect x="597.4" y="239.9" width="0.8" height="5.1" fill="#fcf8d8"/>
<rect x="553.2" y="239.1" width="1.3" height="8.3" fill="#fcf8d8"/>
<rect x="578.4" y="237.7" width="1.4" height="11.5" fill="#fcf8d8"/>
<rect x="560.5" y="240.1" width="1.4" height="10.9" fill="#fcf8d8"/>
<rect x="568.0" y="241.1" width="1.0" height="8.9" fill="#fcf8d8"/>
<rect x="517.2" y="245.4" width="1.2" height="5.0" fill="#fcf8d8"/>
<rect x="547.9" y="239.9" width="0.8" height="5.1" fill="#fcf8d8"/>
<rect x="555.5" y="242.4" width="1.2" height="5.3" fill="#fcf8d8"/>
<rect x="522.3" y="239.1" width="1.2" height="8.3" fill="#fcf8d8"/>
<rect x="505.0" y="245.4" width="1.3" height="4.6" fill="#fcf8d8"/>
<rect x="507.7" y="241.0" width="2.4" height="5.6" fill="#fcf8d8"/>
<rect x="519.8" y="238.1" width="1.5" height="11.8" fill="#fcf8d8"/>
<rect x="579.1" y="237.4" width="1.7" height="7.6" fill="#fcf8d8"/>
<rect x="564.4" y="238.2" width="2.3" height="9.6" fill="#fcf8d8"/>
<rect x="584.7" y="237.5" width="2.1" height="12.9" fill="#fcf8d8"/>
<rect x="571.0" y="237.2" width="1.1" height="5.6" fill="#fcf8d8"/>
<rect x="511.6" y="240.3" width="2.0" height="4.7" fill="#fcf8d8"/>
<rect x="530.4" y="237.1" width="1.1" height="8.6" fill="#fcf8d8"/>
<rect x="594.0" y="242.2" width="2.1" height="4.1" fill="#fcf8d8"/>
<rect x="577.6" y="238.4" width="2.1" height="10.6" fill="#fcf8d8"/>
<rect x="581.1" y="240.0" width="1.0" height="10.9" fill="#fcf8d8"/>
<rect x="593.1" y="241.5" width="1.2" height="7.6" fill="#fcf8d8"/>
<rect x="589.1" y="242.6" width="1.2" height="4.2" fill="#fcf8d8"/>
<rect x="538.1" y="241.4" width="2.1" height="7.3" fill="#fcf8d8"/>
<rect x="535.7" y="238.5" width="1.2" height="9.7" fill="#fcf8d8"/>
<rect x="588.7" y="237.7" width="1.3" height="6.9" fill="#fcf8d8"/>
<rect x="572.7" y="243.0" width="1.7" height="5.9" fill="#fcf8d8"/>
<rect x="566.7" y="237.9" width="1.0" height="5.6" fill="#fcf8d8"/>
<rect x="534.3" y="237.1" width="1.6" height="7.9" fill="#fcf8d8"/>
<rect x="539.5" y="240.8" width="2.3" height="6.9" fill="#fcf8d8"/>
<rect x="520.1" y="237.7" width="2.0" height="11.9" fill="#fcf8d8"/>
<rect x="510.6" y="237.5" width="2.3" height="12.9" fill="#fcf8d8"/>
<rect x="521.5" y="241.5" width="1.1" height="7.7" fill="#fcf8d8"/>
<rect x="526.8" y="240.7" width="1.3" height="10.1" fill="#fcf8d8"/>
<rect x="518.0" y="243.7" width="1.0" height="7.2" fill="#fcf8d8"/>
<rect x="562.2" y="241.2" width="1.1" height="7.4" fill="#fcf8d8"/>
<rect x="560.4" y="238.7" width="1.8" height="12.0" fill="#fcf8d8"/>
<rect x="549.5" y="237.6" width="2.1" height="9.1" fill="#fcf8d8"/>
<rect x="567.6" y="240.9" width="1.5" height="8.1" fill="#fcf8d8"/>
<rect x="537.7" y="241.8" width="1.7" height="6.1" fill="#fcf8d8"/>
<rect x="550.5" y="243.1" width="1.5" height="4.3" fill="#fcf8d8"/>
<rect x="521.0" y="211.6" width="77.3" height="5.2" fill="#fcf8d8"/>
<rect x="541.0" y="223.0" width="5.0" height="4.0" fill="#fcf8d8"/>
<rect x="546.0" y="225.0" width="4.0" height="5.0" fill="#fcf8d8"/>
<rect x="551.0" y="222.5" width="4.0" height="3.5" fill="#fcf8d8"/>
<rect x="555.0" y="226.0" width="3.0" height="4.0" fill="#fcf8d8"/>
<rect x="542.0" y="228.0" width="3.0" height="3.0" fill="#fcf8d8"/>
<rect x="549.0" y="229.0" width="3.0" height="2.5" fill="#fcf8d8"/>
<rect x="560.0" y="224.0" width="2.0" height="3.0" fill="#fcf8d8"/>
<rect x="530.0" y="223.0" width="3.0" height="3.0" fill="#fcf8d8"/>
<rect x="345.3" y="203.4" width="75.9" height="4.6" fill="#4556a8"/>
<rect x="388.7" y="205.6" width="5.6" height="0.6" fill="#dce9da"/>
<rect x="379.7" y="205.5" width="8.0" height="0.7" fill="#dce9da"/>
<rect x="399.0" y="205.4" width="7.9" height="0.9" fill="#dce9da"/>
<rect x="355.1" y="205.4" width="7.9" height="0.7" fill="#dce9da"/>
<rect x="406.5" y="205.6" width="5.9" height="0.8" fill="#dce9da"/>
<rect x="403.4" y="205.6" width="5.1" height="0.6" fill="#dce9da"/>
<rect x="408.6" y="205.3" width="6.3" height="0.8" fill="#dce9da"/>
<rect x="378.7" y="205.5" width="5.2" height="0.7" fill="#dce9da"/>
<rect x="366.1" y="205.2" width="5.9" height="0.8" fill="#dce9da"/>
<rect x="402.7" y="205.3" width="4.9" height="0.8" fill="#dce9da"/>
<rect x="407.6" y="205.4" width="6.6" height="0.9" fill="#dce9da"/>
<rect x="403.4" y="205.3" width="2.9" height="0.6" fill="#dce9da"/>
<rect x="348.6" y="205.5" width="4.1" height="0.9" fill="#dce9da"/>
<rect x="354.5" y="205.4" width="3.1" height="0.9" fill="#dce9da"/>
<rect x="390.4" y="205.2" width="7.4" height="0.9" fill="#dce9da"/>
<rect x="360.9" y="205.6" width="5.8" height="0.8" fill="#dce9da"/>
<rect x="360.2" y="205.4" width="6.0" height="0.6" fill="#dce9da"/>
<rect x="370.4" y="205.5" width="3.9" height="0.7" fill="#dce9da"/>
<rect x="389.4" y="205.3" width="6.2" height="0.6" fill="#dce9da"/>
<rect x="396.0" y="205.3" width="4.8" height="0.6" fill="#dce9da"/>
<rect x="413.8" y="205.3" width="5.7" height="0.7" fill="#dce9da"/>
<rect x="417.6" y="205.5" width="2.4" height="0.7" fill="#dce9da"/>
<rect x="368.3" y="205.3" width="4.4" height="0.8" fill="#dce9da"/>
<rect x="376.6" y="205.4" width="6.9" height="0.7" fill="#dce9da"/>
<rect x="382.5" y="205.3" width="7.6" height="0.8" fill="#dce9da"/>
<rect x="362.9" y="205.3" width="5.5" height="0.9" fill="#dce9da"/>
<rect x="366.6" y="205.5" width="7.1" height="0.7" fill="#dce9da"/>
<rect x="413.2" y="205.5" width="4.3" height="0.8" fill="#dce9da"/>
<rect x="378.3" y="205.4" width="2.4" height="0.7" fill="#dce9da"/>
<rect x="377.7" y="205.3" width="7.7" height="0.8" fill="#dce9da"/>
<rect x="345.3" y="210.2" width="75.9" height="4.2" fill="#4556a8"/>
<rect x="394.7" y="208.6" width="2.4" height="0.7" fill="#dce9da"/>
<rect x="410.9" y="208.6" width="2.4" height="0.9" fill="#dce9da"/>
<rect x="405.5" y="208.8" width="4.5" height="1.0" fill="#dce9da"/>
<rect x="353.2" y="208.1" width="4.6" height="0.9" fill="#dce9da"/>
<rect x="373.2" y="208.9" width="4.0" height="0.9" fill="#dce9da"/>
<rect x="411.1" y="208.0" width="4.8" height="1.1" fill="#dce9da"/>
<rect x="380.0" y="208.7" width="2.8" height="0.9" fill="#dce9da"/>
<rect x="394.6" y="209.4" width="3.6" height="1.4" fill="#dce9da"/>
<rect x="418.0" y="209.2" width="2.0" height="1.1" fill="#dce9da"/>
<rect x="396.8" y="208.1" width="5.0" height="1.0" fill="#dce9da"/>
<rect x="375.1" y="208.3" width="3.8" height="1.4" fill="#dce9da"/>
<rect x="361.2" y="208.2" width="2.8" height="0.9" fill="#dce9da"/>
<rect x="399.8" y="208.2" width="1.8" height="1.1" fill="#dce9da"/>
<rect x="391.2" y="208.4" width="4.1" height="1.2" fill="#dce9da"/>
<rect x="399.0" y="208.2" width="4.2" height="1.0" fill="#dce9da"/>
<rect x="347.1" y="209.3" width="4.5" height="1.3" fill="#dce9da"/>
<rect x="347.8" y="208.8" width="2.7" height="1.0" fill="#dce9da"/>
<rect x="354.1" y="208.4" width="4.3" height="1.0" fill="#dce9da"/>
<rect x="355.0" y="208.2" width="3.5" height="0.7" fill="#dce9da"/>
<rect x="383.1" y="209.1" width="2.5" height="0.8" fill="#dce9da"/>
<rect x="376.0" y="208.3" width="1.7" height="1.0" fill="#dce9da"/>
<rect x="386.5" y="209.2" width="3.1" height="0.7" fill="#dce9da"/>
<rect x="407.6" y="209.4" width="2.0" height="1.0" fill="#dce9da"/>
<rect x="375.5" y="209.2" width="3.6" height="1.4" fill="#dce9da"/>
<rect x="376.0" y="208.2" width="1.5" height="1.3" fill="#dce9da"/>
<rect x="399.2" y="208.2" width="4.0" height="1.0" fill="#dce9da"/>
<rect x="348.1" y="208.4" width="1.9" height="1.4" fill="#dce9da"/>
<rect x="392.6" y="208.1" width="4.5" height="0.9" fill="#dce9da"/>
<rect x="351.7" y="208.2" width="2.4" height="1.3" fill="#dce9da"/>
<rect x="369.8" y="208.9" width="3.2" height="1.3" fill="#dce9da"/>
<rect x="414.6" y="208.7" width="3.5" height="1.3" fill="#dce9da"/>
<rect x="374.6" y="209.0" width="2.5" height="0.8" fill="#dce9da"/>
<rect x="372.7" y="208.7" width="3.0" height="0.9" fill="#dce9da"/>
<rect x="377.2" y="208.1" width="3.1" height="1.3" fill="#dce9da"/>
<rect x="350.5" y="208.8" width="3.3" height="0.9" fill="#dce9da"/>
<rect x="362.1" y="208.5" width="1.8" height="0.9" fill="#dce9da"/>
<rect x="381.1" y="209.0" width="2.3" height="1.0" fill="#dce9da"/>
<rect x="346.6" y="209.4" width="2.9" height="0.6" fill="#dce9da"/>
<rect x="389.0" y="208.5" width="4.9" height="1.1" fill="#dce9da"/>
<rect x="372.7" y="208.9" width="2.6" height="1.1" fill="#dce9da"/>
<polyline points="364.2,201.7 380.8,201.7 381.5,204.0" fill="none" stroke="#4556a8" stroke-width="1.8" stroke-linejoin="round"/>
<polyline points="366.0,215.9 367.5,216.0 369.0,216.0 370.5,216.2 372.0,215.6 373.5,215.7 375.0,215.8 376.5,215.8 378.0,216.2 379.5,215.9 381.0,216.3 382.5,215.9 384.0,215.8 385.5,216.1 387.0,215.7 388.5,216.4 390.0,216.3 391.5,215.9 393.0,215.9 394.5,216.3 396.0,216.2 397.5,216.1 399.0,215.6 400.5,216.2 402.0,215.6 403.5,216.1 405.0,216.0 406.5,216.3 408.0,216.1 409.5,215.6 411.0,216.3 412.5,216.2 414.0,216.1 415.5,215.6 417.0,216.2 418.0,216.0" fill="none" stroke="#dce9da" stroke-width="0.8" stroke-linejoin="round" opacity="0.6"/>
<polyline points="420.4,207.0 430.0,206.5 437.0,205.0 439.8,202.5" fill="none" stroke="#4556a8" stroke-width="2.4" stroke-linejoin="round"/>
<polyline points="440.0,187.7 440.0,215.7" fill="none" stroke="#4556a8" stroke-width="1.5" stroke-linejoin="round"/>
<polyline points="487.3,187.7 487.3,215.7" fill="none" stroke="#4556a8" stroke-width="1.5" stroke-linejoin="round"/>
<polyline points="440.0,201.9 452.0,201.5 455.0,204.0 463.0,203.5 486.0,201.5 498.0,201.5" fill="none" stroke="#4556a8" stroke-width="1.8" stroke-linejoin="round"/>
<polyline points="440.0,206.0 470.0,206.5 496.0,206.8" fill="none" stroke="#4556a8" stroke-width="1.2" stroke-linejoin="round"/>
<polyline points="420.5,211.0 442.0,212.2 460.0,209.8 496.0,211.0" fill="none" stroke="#4556a8" stroke-width="1.4" stroke-linejoin="round"/>
<polyline points="442.0,208.5 470.0,209.0 496.0,209.5" fill="none" stroke="#4556a8" stroke-width="1.0" stroke-linejoin="round"/>
<rect x="420.5" y="212.6" width="75.5" height="1.8" fill="#4556a8"/>
<polyline points="470.0,202.8 486.0,202.6 505.0,203.2" fill="none" stroke="#4556a8" stroke-width="1.8" stroke-linejoin="round"/>
<polyline points="470.0,207.6 496.0,207.8" fill="none" stroke="#4556a8" stroke-width="1.6" stroke-linejoin="round"/>
<polyline points="470.0,214.5 496.0,215.0" fill="none" stroke="#4556a8" stroke-width="2.2" stroke-linejoin="round"/>
<polyline points="507.0,187.7 547.4,187.7 547.4,197.4 555.5,197.4 555.5,204.3 561.0,204.3 561.0,208.5 598.0,208.5" fill="none" stroke="#4556a8" stroke-width="1.6" stroke-linejoin="round"/>
<polyline points="518.6,187.7 518.6,193.9 547.4,193.9" fill="none" stroke="#4556a8" stroke-width="1.4" stroke-linejoin="round"/>
<rect x="544.0" y="193.0" width="3.6" height="12.0" fill="#4556a8"/>
<polyline points="582.0,195.0 582.0,205.6 598.0,205.6" fill="none" stroke="#4556a8" stroke-width="1.6" stroke-linejoin="round"/>
<rect x="555.5" y="207.4" width="42.8" height="4.2" fill="#4556a8"/>
<rect x="572.7" y="209.2" width="4.7" height="0.8" fill="#fcf8d8"/>
<rect x="559.0" y="208.9" width="5.1" height="0.7" fill="#fcf8d8"/>
<rect x="571.1" y="208.9" width="3.8" height="0.5" fill="#fcf8d8"/>
<rect x="568.8" y="208.6" width="4.9" height="0.5" fill="#fcf8d8"/>
<rect x="589.4" y="208.9" width="4.7" height="0.5" fill="#fcf8d8"/>
<rect x="560.7" y="209.2" width="3.2" height="0.7" fill="#fcf8d8"/>
<rect x="592.9" y="208.8" width="2.8" height="0.7" fill="#fcf8d8"/>
<rect x="589.6" y="209.1" width="2.5" height="0.6" fill="#fcf8d8"/>
<rect x="557.3" y="208.8" width="3.7" height="0.7" fill="#fcf8d8"/>
<rect x="593.1" y="209.0" width="4.0" height="0.6" fill="#fcf8d8"/>
<polyline points="496.5,213.0 510.0,212.5 530.0,213.2 598.0,212.8" fill="none" stroke="#4556a8" stroke-width="0.7" stroke-linejoin="round"/>
<polyline points="496.5,210.0 545.0,210.5" fill="none" stroke="#4556a8" stroke-width="1.0" stroke-linejoin="round"/>
<rect x="575.6" y="213.5" width="3.2" height="0.9" fill="#4556a8"/>
<rect x="556.2" y="213.7" width="2.0" height="0.9" fill="#4556a8"/>
<rect x="532.3" y="214.6" width="2.6" height="1.1" fill="#4556a8"/>
<rect x="555.0" y="215.2" width="2.1" height="1.3" fill="#4556a8"/>
<rect x="545.5" y="215.6" width="2.0" height="1.4" fill="#4556a8"/>
<rect x="520.6" y="213.8" width="3.2" height="1.3" fill="#4556a8"/>
<rect x="523.0" y="213.4" width="3.5" height="1.1" fill="#4556a8"/>
<rect x="569.4" y="214.2" width="2.9" height="1.2" fill="#4556a8"/>
<rect x="595.6" y="215.4" width="2.4" height="1.2" fill="#4556a8"/>
<rect x="520.4" y="215.0" width="1.3" height="1.0" fill="#4556a8"/>
<rect x="582.6" y="213.3" width="3.1" height="1.3" fill="#4556a8"/>
<rect x="552.7" y="214.0" width="1.5" height="1.6" fill="#4556a8"/>
<rect x="574.2" y="215.1" width="1.3" height="1.4" fill="#4556a8"/>
<rect x="519.1" y="213.7" width="2.6" height="1.3" fill="#4556a8"/>
<rect x="509.2" y="215.0" width="2.7" height="1.5" fill="#4556a8"/>
<rect x="590.3" y="214.9" width="2.1" height="1.6" fill="#4556a8"/>
<rect x="569.6" y="213.9" width="3.6" height="1.4" fill="#4556a8"/>
<rect x="523.7" y="213.8" width="1.1" height="1.2" fill="#4556a8"/>
<rect x="522.6" y="213.9" width="1.8" height="0.9" fill="#4556a8"/>
<rect x="546.0" y="213.9" width="1.9" height="1.0" fill="#4556a8"/>
<rect x="548.4" y="215.3" width="1.5" height="1.5" fill="#4556a8"/>
<rect x="583.3" y="214.7" width="2.6" height="1.4" fill="#4556a8"/>
<rect x="551.0" y="214.8" width="3.8" height="1.4" fill="#4556a8"/>
<rect x="523.2" y="213.3" width="3.8" height="1.1" fill="#4556a8"/>
<rect x="576.5" y="213.8" width="2.4" height="1.1" fill="#4556a8"/>
<rect x="570.7" y="215.5" width="2.5" height="1.3" fill="#4556a8"/>
<rect x="532.2" y="213.8" width="3.8" height="0.9" fill="#4556a8"/>
<rect x="592.0" y="214.8" width="1.2" height="1.5" fill="#4556a8"/>
<rect x="507.3" y="214.6" width="1.4" height="1.6" fill="#4556a8"/>
<rect x="528.2" y="215.3" width="1.2" height="1.3" fill="#4556a8"/>
<rect x="503.9" y="215.2" width="2.1" height="2.0" fill="#4556a8"/>
<rect x="566.2" y="216.3" width="2.6" height="1.5" fill="#4556a8"/>
<rect x="504.8" y="215.9" width="1.4" height="1.5" fill="#4556a8"/>
<rect x="532.8" y="215.8" width="1.4" height="1.7" fill="#4556a8"/>
<rect x="539.1" y="215.8" width="1.2" height="1.5" fill="#4556a8"/>
<rect x="553.3" y="216.5" width="2.1" height="1.1" fill="#4556a8"/>
<rect x="527.3" y="215.6" width="2.4" height="1.9" fill="#4556a8"/>
<rect x="595.6" y="216.4" width="2.9" height="1.9" fill="#4556a8"/>
<rect x="591.4" y="215.2" width="2.0" height="1.6" fill="#4556a8"/>
<rect x="566.3" y="216.0" width="2.2" height="1.9" fill="#4556a8"/>
<rect x="505.7" y="215.9" width="2.9" height="1.0" fill="#4556a8"/>
<rect x="508.3" y="216.3" width="2.9" height="1.0" fill="#4556a8"/>
<rect x="500.2" y="216.3" width="2.4" height="1.5" fill="#4556a8"/>
<rect x="555.6" y="216.2" width="2.6" height="1.0" fill="#4556a8"/>
<rect x="503.9" y="216.2" width="3.0" height="1.8" fill="#4556a8"/>
<rect x="538.2" y="215.6" width="1.7" height="1.0" fill="#4556a8"/>
<rect x="574.8" y="215.5" width="2.2" height="1.5" fill="#4556a8"/>
<rect x="530.9" y="216.1" width="1.9" height="1.2" fill="#4556a8"/>
<rect x="586.1" y="215.4" width="1.3" height="1.3" fill="#4556a8"/>
<rect x="545.4" y="216.2" width="1.7" height="1.2" fill="#4556a8"/>
<rect x="563.1" y="215.5" width="2.0" height="1.3" fill="#4556a8"/>
<rect x="585.6" y="215.4" width="1.5" height="1.3" fill="#4556a8"/>
<rect x="530.3" y="216.1" width="2.3" height="1.8" fill="#4556a8"/>
<rect x="551.5" y="215.3" width="2.5" height="1.2" fill="#4556a8"/>
<rect x="519.0" y="215.7" width="3.0" height="1.4" fill="#4556a8"/>
<polyline points="496.0,183.5 598.0,183.5" fill="none" stroke="#4556a8" stroke-width="1.2" stroke-linejoin="round"/>
<rect x="345.3" y="214.2" width="18.1" height="36.9" fill="#4556a8"/>
<rect x="345.3" y="236.5" width="18.1" height="14.6" fill="#d8232a"/>
<rect x="352.0" y="236.0" width="4.0" height="3.5" fill="#4556a8"/>
<rect x="357.0" y="236.5" width="4.0" height="3.0" fill="#4556a8"/>
<rect x="349.0" y="238.0" width="2.0" height="2.0" fill="#4556a8"/>
<rect x="360.0" y="239.0" width="2.0" height="3.0" fill="#4556a8"/>
<polyline points="345.3,218.3 347.3,219.3 349.3,219.5 351.3,218.4 353.3,217.9 355.3,219.1 357.3,219.1 359.3,218.3 361.3,219.1 363.0,218.6" fill="none" stroke="#d8232a" stroke-width="2.0" stroke-linejoin="round"/>
<polyline points="345.3,229.1 347.3,228.9 349.3,229.5 351.3,229.7 353.3,229.3 355.3,229.9 357.3,228.4 359.3,229.3 361.3,229.1 363.0,229.3" fill="none" stroke="#d8232a" stroke-width="2.0" stroke-linejoin="round"/>
<polyline points="346.6,219.0 348.3,222.0 346.8,225.0 346.9,228.0 348.3,231.0 348.4,234.0 348.4,237.0" fill="none" stroke="#d8232a" stroke-width="1.5" stroke-linejoin="round"/>
<polyline points="351.7,219.0 352.9,222.0 351.3,225.0 352.4,228.0 352.9,231.0 351.4,234.0 351.3,237.0" fill="none" stroke="#d8232a" stroke-width="1.5" stroke-linejoin="round"/>
<polyline points="356.9,219.0 357.3,222.0 357.0,225.0 357.4,228.0 356.4,231.0 356.2,234.0 355.7,237.0" fill="none" stroke="#d8232a" stroke-width="1.5" stroke-linejoin="round"/>
<polyline points="359.5,219.0 360.9,222.0 359.1,225.0 359.4,228.0 359.7,231.0 359.1,234.0 359.6,237.0" fill="none" stroke="#d8232a" stroke-width="1.5" stroke-linejoin="round"/>
<polyline points="346.0,222.0 349.0,225.0 348.0,228.0" fill="none" stroke="#d8232a" stroke-width="1.4" stroke-linejoin="round"/>
<rect x="357.0" y="221.5" width="3.0" height="3.0" fill="#dce9da"/>
<rect x="350.0" y="232.0" width="1.5" height="3.0" fill="#dce9da"/>
<rect x="354.5" y="231.0" width="1.2" height="2.5" fill="#dce9da"/>
<rect x="347.0" y="223.0" width="1.2" height="1.5" fill="#dce9da"/>
<polyline points="345.3,213.0 422.6,213.0 422.6,182.5" fill="none" stroke="#d8232a" stroke-width="1.6" stroke-linejoin="round"/>
<polygon points="363.4,182.1 364.6,182.6 365.8,182.7 367.0,182.6 368.2,181.9 369.4,181.9 370.6,183.0 371.8,182.6 373.0,182.3 374.2,182.3 375.4,183.4 376.6,182.8 377.8,182.5 379.0,183.3 380.2,181.8 381.4,182.4 382.6,182.1 383.8,183.0 385.0,181.8 386.2,183.1 387.4,182.8 388.6,182.1 389.8,182.3 391.0,182.2 392.2,182.4 393.4,182.8 394.6,182.4 395.8,182.7 397.0,182.7 398.2,182.3 399.4,182.2 400.6,183.2 401.8,182.1 403.0,183.4 404.2,182.1 405.4,182.2 406.6,182.1 407.8,182.3 409.0,182.9 410.2,182.7 411.4,183.3 412.6,182.4 413.8,182.6 415.0,182.7 416.2,182.5 417.4,182.6 418.6,182.8 419.8,182.2 421.0,181.9 422.2,182.2 423.4,183.1 424.6,183.2 425.8,182.5 427.0,183.3 428.2,182.6 429.4,183.1 430.6,182.3 431.8,182.1 433.0,183.1 434.2,183.3 435.4,183.1 436.6,183.1 437.8,182.1 439.0,182.3 440.2,183.3 441.4,182.6 442.6,183.1 443.8,183.3 445.0,182.8 446.2,182.9 447.4,183.4 448.6,182.3 449.8,182.9 451.0,183.4 452.2,182.0 453.4,181.9 454.6,183.0 455.8,183.2 457.0,183.3 458.2,182.6 459.4,182.4 460.6,182.1 461.8,182.2 463.0,183.0 464.2,182.6 465.4,182.2 466.6,182.8 467.8,183.3 469.0,183.3 470.2,182.3 471.4,182.8 472.6,183.0 473.8,182.2 475.0,182.6 476.2,183.2 477.4,182.6 478.6,182.2 479.8,182.7 481.0,182.3 482.2,181.9 483.4,182.6 484.6,182.8 485.8,182.5 487.0,182.6 488.2,182.0 489.4,182.9 490.6,182.7 491.8,183.3 493.0,182.2 494.2,183.4 495.4,182.1 496.6,181.9 497.8,182.7 497.8,189.6 496.6,189.3 495.4,191.1 494.2,190.4 493.0,190.4 491.8,191.5 490.6,190.7 489.4,191.1 488.2,190.1 487.0,191.7 485.8,189.5 484.6,190.0 483.4,191.6 482.2,189.9 481.0,189.0 479.8,189.5 478.6,189.4 477.4,191.0 476.2,190.4 475.0,188.9 473.8,190.4 472.6,189.8 471.4,191.7 470.2,191.7 469.0,191.5 467.8,189.8 466.6,190.9 465.4,189.4 464.2,189.7 463.0,190.9 461.8,190.8 460.6,191.2 459.4,188.9 458.2,190.0 457.0,190.7 455.8,190.5 454.6,191.2 453.4,191.4 452.2,191.0 451.0,190.7 449.8,191.1 448.6,189.4 447.4,191.4 446.2,189.1 445.0,189.0 443.8,191.6 442.6,190.6 441.4,189.8 440.2,188.9 439.0,189.5 437.8,191.2 436.6,191.2 435.4,190.9 434.2,190.9 433.0,191.7 431.8,191.3 430.6,189.4 429.4,190.3 428.2,189.7 427.0,190.3 425.8,190.5 424.6,190.3 423.4,189.6 422.2,191.3 421.0,191.2 419.8,190.1 418.6,191.7 417.4,190.2 416.2,189.1 415.0,190.7 413.8,189.6 412.6,188.8 411.4,190.3 410.2,190.3 409.0,189.8 407.8,189.1 406.6,191.6 405.4,190.6 404.2,191.0 403.0,189.7 401.8,190.3 400.6,191.4 399.4,191.6 398.2,191.5 397.0,190.2 395.8,190.1 394.6,191.5 393.4,189.8 392.2,190.2 391.0,190.7 389.8,188.9 388.6,188.8 387.4,190.2 386.2,190.3 385.0,189.5 383.8,189.4 382.6,189.3 381.4,189.0 380.2,191.1 379.0,191.7 377.8,189.4 376.6,191.3 375.4,190.2 374.2,191.2 373.0,190.5 371.8,189.3 370.6,191.6 369.4,189.7 368.2,189.5 367.0,191.6 365.8,191.1 364.6,190.4 363.4,189.2" fill="#d8232a"/>
<line x1="459.6" y1="188" x2="459.6" y2="194.4" stroke="#d8232a" stroke-width="1.1"/>
<line x1="465.7" y1="188" x2="465.7" y2="193.9" stroke="#d8232a" stroke-width="1.4"/>
<line x1="425.4" y1="188" x2="425.4" y2="192.6" stroke="#d8232a" stroke-width="0.9"/>
<line x1="427.7" y1="188" x2="427.7" y2="195.7" stroke="#d8232a" stroke-width="1.5"/>
<line x1="373.3" y1="188" x2="373.3" y2="190.4" stroke="#d8232a" stroke-width="1.0"/>
<line x1="456.3" y1="188" x2="456.3" y2="192.6" stroke="#d8232a" stroke-width="0.9"/>
<line x1="421.3" y1="188" x2="421.3" y2="193.4" stroke="#d8232a" stroke-width="1.4"/>
<line x1="418.4" y1="188" x2="418.4" y2="193.9" stroke="#d8232a" stroke-width="1.3"/>
<line x1="446.0" y1="188" x2="446.0" y2="190.3" stroke="#d8232a" stroke-width="1.4"/>
<line x1="382.7" y1="188" x2="382.7" y2="190.3" stroke="#d8232a" stroke-width="1.2"/>
<line x1="368.2" y1="188" x2="368.2" y2="190.4" stroke="#d8232a" stroke-width="1.1"/>
<line x1="426.9" y1="188" x2="426.9" y2="190.6" stroke="#d8232a" stroke-width="1.6"/>
<line x1="476.8" y1="188" x2="476.8" y2="192.9" stroke="#d8232a" stroke-width="1.3"/>
<line x1="407.0" y1="188" x2="407.0" y2="195.9" stroke="#d8232a" stroke-width="0.9"/>
<line x1="405.5" y1="188" x2="405.5" y2="191.3" stroke="#d8232a" stroke-width="1.5"/>
<line x1="432.1" y1="188" x2="432.1" y2="192.5" stroke="#d8232a" stroke-width="1.1"/>
<line x1="481.3" y1="188" x2="481.3" y2="191.5" stroke="#d8232a" stroke-width="1.4"/>
<line x1="458.1" y1="188" x2="458.1" y2="192.7" stroke="#d8232a" stroke-width="1.1"/>
<line x1="422.8" y1="188" x2="422.8" y2="192.7" stroke="#d8232a" stroke-width="1.1"/>
<line x1="447.1" y1="188" x2="447.1" y2="192.5" stroke="#d8232a" stroke-width="1.0"/>
<line x1="466.5" y1="188" x2="466.5" y2="192.7" stroke="#d8232a" stroke-width="1.2"/>
<line x1="480.3" y1="188" x2="480.3" y2="192.7" stroke="#d8232a" stroke-width="1.1"/>
<rect x="481.8" y="185.6" width="3.0" height="0.7" fill="#f1d0d5"/>
<rect x="452.6" y="184.6" width="2.5" height="0.9" fill="#f1d0d5"/>
<rect x="488.5" y="185.3" width="2.3" height="0.7" fill="#f1d0d5"/>
<rect x="450.3" y="185.5" width="1.5" height="0.8" fill="#f1d0d5"/>
<rect x="492.4" y="185.4" width="1.7" height="0.5" fill="#f1d0d5"/>
<rect x="419.7" y="184.5" width="2.5" height="0.8" fill="#dce9da"/>
<rect x="394.5" y="186.0" width="1.8" height="0.6" fill="#dce9da"/>
<rect x="483.7" y="185.2" width="1.1" height="0.9" fill="#f1d0d5"/>
<rect x="474.0" y="185.2" width="1.8" height="0.9" fill="#f1d0d5"/>
<rect x="464.3" y="185.2" width="2.5" height="0.6" fill="#f1d0d5"/>
<rect x="457.0" y="185.1" width="2.1" height="1.0" fill="#f1d0d5"/>
<rect x="383.6" y="184.6" width="2.6" height="0.9" fill="#dce9da"/>
<rect x="488.6" y="185.1" width="1.5" height="0.8" fill="#f1d0d5"/>
<rect x="429.9" y="185.3" width="1.3" height="0.9" fill="#f1d0d5"/>
<rect x="451.6" y="185.6" width="1.6" height="0.7" fill="#f1d0d5"/>
<rect x="384.7" y="184.9" width="2.2" height="0.8" fill="#dce9da"/>
<rect x="493.9" y="185.9" width="2.1" height="0.7" fill="#f1d0d5"/>
<rect x="463.9" y="184.6" width="1.2" height="0.8" fill="#f1d0d5"/>
<rect x="455.0" y="184.8" width="2.7" height="0.6" fill="#f1d0d5"/>
<rect x="412.2" y="184.0" width="2.1" height="0.7" fill="#dce9da"/>
<rect x="450.8" y="184.6" width="1.3" height="0.9" fill="#f1d0d5"/>
<rect x="486.4" y="184.4" width="1.5" height="0.6" fill="#f1d0d5"/>
<rect x="377.1" y="185.5" width="2.6" height="0.6" fill="#dce9da"/>
<rect x="429.1" y="184.1" width="2.4" height="0.9" fill="#f1d0d5"/>
<rect x="476.9" y="185.4" width="1.4" height="0.8" fill="#f1d0d5"/>
<polyline points="363.4,251.0 363.4,183.0" fill="none" stroke="#d8232a" stroke-width="1.8" stroke-linejoin="round"/>
<polyline points="406.5,251.0 406.5,186.0" fill="none" stroke="#d8232a" stroke-width="1.6" stroke-linejoin="round"/>
<polyline points="498.0,183.3 499.5,184.3 501.0,183.1 502.5,183.6 504.0,183.3 505.5,183.5 507.0,184.2 508.5,183.7 510.0,183.8 511.5,184.5 513.0,183.1 514.5,183.1 516.0,183.8 517.5,183.0 519.0,184.4 520.5,183.3 522.0,183.5 523.5,183.5 525.0,184.2 526.5,184.3 528.0,183.9 529.5,183.0 531.0,183.3 532.5,184.0 534.0,183.1 535.5,184.3 537.0,184.3 538.5,183.1 540.0,183.4 541.5,183.1 543.0,184.0 544.5,182.8 546.0,184.0 547.5,182.8 549.0,184.2 550.5,183.7 552.0,183.7 553.5,182.9 555.0,182.8 556.5,183.3 558.0,184.5 559.5,183.8 561.0,184.3 562.5,182.8 564.0,182.9 565.5,182.7 567.0,184.0 568.5,183.0 570.0,183.2 571.5,183.9 573.0,184.0 574.5,183.3 576.0,183.5 577.5,183.2 579.0,183.7 580.5,183.3 582.0,183.3 583.5,183.1 585.0,183.2 586.5,183.2 588.0,182.7 589.5,183.3 591.0,183.8 592.5,183.2 594.0,182.9 595.5,184.2 597.0,183.5 598.0,183.6" fill="none" stroke="#d8232a" stroke-width="2.8" stroke-linejoin="round"/>
<polyline points="504.6,178.1 506.1,177.9 507.6,178.6 509.1,178.4 510.6,178.2 512.1,178.3 513.6,178.3 515.1,178.1 516.6,178.0 518.1,178.0 519.6,178.1 521.1,178.1 522.6,178.1 524.1,178.1 525.6,178.4 527.1,178.6 528.6,177.8 530.1,177.5 531.6,177.9 533.1,177.5 534.6,178.5 536.1,178.2 537.6,177.8 539.1,177.7 540.6,178.5 542.1,178.5 543.6,178.3 545.1,178.3 546.6,178.4 548.1,178.0 549.6,178.0 551.1,178.2 552.6,178.6 554.1,178.7 555.6,178.6 557.1,178.5 558.6,177.6 560.1,177.8 561.6,178.7 563.1,178.2 564.6,178.1 566.1,177.9 567.6,178.5 569.1,178.1 570.6,178.7 572.1,177.6 573.6,178.7 575.1,177.5 576.6,177.7 578.1,178.0 579.6,178.3 581.1,177.6 582.6,178.2 584.1,178.6 585.6,178.0 587.1,178.4 588.6,178.2 590.1,178.2 591.6,177.7 593.1,178.1 594.6,178.6 596.1,178.3 597.6,177.8 598.0,178.1" fill="none" stroke="#d8232a" stroke-width="1.8" stroke-linejoin="round"/>
<polyline points="497.0,202.5 497.0,219.4 506.0,219.4" fill="none" stroke="#d8232a" stroke-width="1.4" stroke-linejoin="round"/>
<polyline points="505.3,251.0 505.3,178.0" fill="none" stroke="#d8232a" stroke-width="1.8" stroke-linejoin="round"/>
<polyline points="507.6,251.0 507.6,184.0" fill="none" stroke="#d8232a" stroke-width="1.6" stroke-linejoin="round"/>
<polyline points="515.0,251.0 515.0,184.0" fill="none" stroke="#d8232a" stroke-width="1.4" stroke-linejoin="round"/>
<polyline points="516.7,251.0 516.7,184.0" fill="none" stroke="#d8232a" stroke-width="2.4" stroke-linejoin="round"/>
<polyline points="532.3,251.0 532.3,184.0" fill="none" stroke="#d8232a" stroke-width="1.8" stroke-linejoin="round"/>
<rect x="345.3" y="172.5" width="253.00" height="85.5" fill="none" stroke="#2f3226" stroke-width="1.3"/>
<line x1="370.60" y1="172.5" x2="370.60" y2="178.5" stroke="#2f3226" stroke-width="1.2"/>
<line x1="370.60" y1="258" x2="370.60" y2="251.5" stroke="#2f3226" stroke-width="1.2"/>
<line x1="395.90" y1="172.5" x2="395.90" y2="178.5" stroke="#2f3226" stroke-width="1.2"/>
<line x1="395.90" y1="258" x2="395.90" y2="251.5" stroke="#2f3226" stroke-width="1.2"/>
<line x1="421.20" y1="172.5" x2="421.20" y2="178.5" stroke="#2f3226" stroke-width="1.2"/>
<line x1="421.20" y1="258" x2="421.20" y2="251.5" stroke="#2f3226" stroke-width="1.2"/>
<line x1="446.50" y1="172.5" x2="446.50" y2="178.5" stroke="#2f3226" stroke-width="1.2"/>
<line x1="446.50" y1="258" x2="446.50" y2="251.5" stroke="#2f3226" stroke-width="1.2"/>
<line x1="471.80" y1="172.5" x2="471.80" y2="178.5" stroke="#2f3226" stroke-width="1.2"/>
<line x1="471.80" y1="258" x2="471.80" y2="251.5" stroke="#2f3226" stroke-width="1.2"/>
<line x1="497.10" y1="172.5" x2="497.10" y2="178.5" stroke="#2f3226" stroke-width="1.2"/>
<line x1="497.10" y1="258" x2="497.10" y2="251.5" stroke="#2f3226" stroke-width="1.2"/>
<line x1="522.40" y1="172.5" x2="522.40" y2="178.5" stroke="#2f3226" stroke-width="1.2"/>
<line x1="522.40" y1="258" x2="522.40" y2="251.5" stroke="#2f3226" stroke-width="1.2"/>
<line x1="547.70" y1="172.5" x2="547.70" y2="178.5" stroke="#2f3226" stroke-width="1.2"/>
<line x1="547.70" y1="258" x2="547.70" y2="251.5" stroke="#2f3226" stroke-width="1.2"/>
<line x1="573.00" y1="172.5" x2="573.00" y2="178.5" stroke="#2f3226" stroke-width="1.2"/>
<line x1="573.00" y1="258" x2="573.00" y2="251.5" stroke="#2f3226" stroke-width="1.2"/>
<line x1="345.3" y1="207.5" x2="351.3" y2="207.5" stroke="#2f3226" stroke-width="1.2"/>
<line x1="345.3" y1="241" x2="351.3" y2="241" stroke="#2f3226" stroke-width="1.2"/>
<text x="345.3" y="269.5" font-size="10" fill="#222" stroke="#222" stroke-width="0.22" text-anchor="middle" font-family="Liberation Sans, sans-serif" >0</text>
<text x="370.6" y="269.5" font-size="10" fill="#222" stroke="#222" stroke-width="0.22" text-anchor="middle" font-family="Liberation Sans, sans-serif" >100</text>
<text x="395.9" y="269.5" font-size="10" fill="#222" stroke="#222" stroke-width="0.22" text-anchor="middle" font-family="Liberation Sans, sans-serif" >200</text>
<text x="421.2" y="269.5" font-size="10" fill="#222" stroke="#222" stroke-width="0.22" text-anchor="middle" font-family="Liberation Sans, sans-serif" >300</text>
<text x="446.5" y="269.5" font-size="10" fill="#222" stroke="#222" stroke-width="0.22" text-anchor="middle" font-family="Liberation Sans, sans-serif" >400</text>
<text x="471.79999999999995" y="269.5" font-size="10" fill="#222" stroke="#222" stroke-width="0.22" text-anchor="middle" font-family="Liberation Sans, sans-serif" >500</text>
<text x="497.1" y="269.5" font-size="10" fill="#222" stroke="#222" stroke-width="0.22" text-anchor="middle" font-family="Liberation Sans, sans-serif" >600</text>
<text x="522.4" y="269.5" font-size="10" fill="#222" stroke="#222" stroke-width="0.22" text-anchor="middle" font-family="Liberation Sans, sans-serif" >700</text>
<text x="547.6999999999999" y="269.5" font-size="10" fill="#222" stroke="#222" stroke-width="0.22" text-anchor="middle" font-family="Liberation Sans, sans-serif" >800</text>
<text x="573.0" y="269.5" font-size="10" fill="#222" stroke="#222" stroke-width="0.22" text-anchor="middle" font-family="Liberation Sans, sans-serif" >900</text>
<text x="598.3" y="269.5" font-size="10" fill="#222" stroke="#222" stroke-width="0.22" text-anchor="middle" font-family="Liberation Sans, sans-serif" >1000</text>
<text x="473.29999999999995" y="281.2" font-size="12.0" fill="#222" stroke="#222" stroke-width="0.22" text-anchor="middle" font-family="Liberation Sans, sans-serif" >Epoch</text>
<text x="326.3" y="178.2" font-size="9.3" fill="#222" font-family="Liberation Sans, sans-serif">10<tspan font-size="6.3" dy="-4.5">-4</tspan></text>
<text x="326.3" y="211.8" font-size="9.3" fill="#222" font-family="Liberation Sans, sans-serif">10<tspan font-size="6.3" dy="-4.5">-5</tspan></text>
<text x="326.3" y="246" font-size="9.3" fill="#222" font-family="Liberation Sans, sans-serif">10<tspan font-size="6.3" dy="-4.5">-6</tspan></text>
<text transform="translate(319.4,240.5) rotate(-90)" font-size="11.3" fill="#222" font-family="Liberation Sans, sans-serif" textLength="50" lengthAdjust="spacingAndGlyphs">1/R [Ω<tspan font-size="7.5" dy="-4.5">-1</tspan><tspan dy="4.5">]</tspan></text>
<polyline points="608,172.3 610.5,172.3 610.5,192.5 608,192.5" fill="none" stroke="#c8323c" stroke-width="1.1"/>
<line x1="610.5" y1="182.7" x2="613.6" y2="182.7" stroke="#c8323c" stroke-width="1.1"/>
<polyline points="608.5,207.3 611,207.3 611,255.7 608.5,255.7" fill="none" stroke="#4646b4" stroke-width="1.1"/>
<line x1="611" y1="231.3" x2="613.5" y2="231.3" stroke="#4646b4" stroke-width="1.1"/>
<text x="618.0" y="175.8" font-size="8.8" fill="#c8323c" stroke="#c8323c" stroke-width="0.22" text-anchor="start" font-family="Liberation Sans, sans-serif" textLength="28.2" lengthAdjust="spacingAndGlyphs" >Pattern</text>
<text x="618.0" y="186.10000000000002" font-size="8.8" fill="#c8323c" stroke="#c8323c" stroke-width="0.22" text-anchor="start" font-family="Liberation Sans, sans-serif" textLength="37.3" lengthAdjust="spacingAndGlyphs" >synapses</text>
<text x="618.0" y="196.4" font-size="8.8" fill="#c8323c" stroke="#c8323c" stroke-width="0.22" text-anchor="start" font-family="Liberation Sans, sans-serif" textLength="23.8" lengthAdjust="spacingAndGlyphs" >(LRS)</text>
<text x="617.8" y="228.6" font-size="8.8" fill="#3c3ca8" stroke="#3c3ca8" stroke-width="0.22" text-anchor="start" font-family="Liberation Sans, sans-serif" textLength="47.2" lengthAdjust="spacingAndGlyphs" >Background</text>
<text x="617.8" y="239.2" font-size="8.8" fill="#3c3ca8" stroke="#3c3ca8" stroke-width="0.22" text-anchor="start" font-family="Liberation Sans, sans-serif" textLength="37.3" lengthAdjust="spacingAndGlyphs" >synapses</text>
<text x="617.8" y="249.79999999999998" font-size="8.8" fill="#3c3ca8" stroke="#3c3ca8" stroke-width="0.22" text-anchor="start" font-family="Liberation Sans, sans-serif" textLength="24.6" lengthAdjust="spacingAndGlyphs" >(HRS)</text>

</svg></body></html>
